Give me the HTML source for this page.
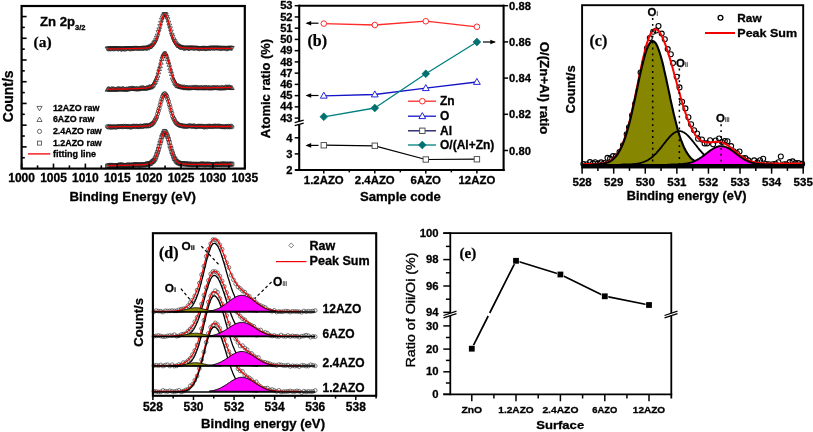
<!DOCTYPE html>
<html><head><meta charset="utf-8"><title>XPS figure</title>
<style>html,body{margin:0;padding:0;background:#fff}svg{display:block}</style></head>
<body><svg width="813" height="432" viewBox="0 0 813 432">
<rect width="813" height="432" fill="#fff"/>
<g id="pa">
<path d="M105.1,47.0h4.6l-2.3,4.1zM105.9,46.9h4.6l-2.3,4.1zM106.7,47.3h4.6l-2.3,4.1zM107.6,46.8h4.6l-2.3,4.1zM108.4,47.2h4.6l-2.3,4.1zM109.3,47.0h4.6l-2.3,4.1zM110.1,46.7h4.6l-2.3,4.1zM110.9,47.2h4.6l-2.3,4.1zM111.8,46.7h4.6l-2.3,4.1zM112.6,47.1h4.6l-2.3,4.1zM113.4,46.7h4.6l-2.3,4.1zM114.3,46.7h4.6l-2.3,4.1zM115.1,47.0h4.6l-2.3,4.1zM116.0,47.4h4.6l-2.3,4.1zM116.8,46.7h4.6l-2.3,4.1zM117.6,46.8h4.6l-2.3,4.1zM118.5,47.2h4.6l-2.3,4.1zM119.3,47.5h4.6l-2.3,4.1zM120.1,47.1h4.6l-2.3,4.1zM121.0,46.9h4.6l-2.3,4.1zM121.8,47.5h4.6l-2.3,4.1zM122.6,46.6h4.6l-2.3,4.1zM123.5,47.4h4.6l-2.3,4.1zM124.3,46.8h4.6l-2.3,4.1zM125.2,46.6h4.6l-2.3,4.1zM126.0,46.6h4.6l-2.3,4.1zM126.8,46.8h4.6l-2.3,4.1zM127.7,47.3h4.6l-2.3,4.1zM128.5,46.6h4.6l-2.3,4.1zM129.3,47.0h4.6l-2.3,4.1zM130.2,47.0h4.6l-2.3,4.1zM131.0,46.7h4.6l-2.3,4.1zM131.8,46.9h4.6l-2.3,4.1zM132.7,46.4h4.6l-2.3,4.1zM133.5,46.4h4.6l-2.3,4.1zM134.4,46.5h4.6l-2.3,4.1zM135.2,46.9h4.6l-2.3,4.1zM136.0,46.6h4.6l-2.3,4.1zM136.9,46.5h4.6l-2.3,4.1zM137.7,46.7h4.6l-2.3,4.1zM138.5,46.6h4.6l-2.3,4.1zM139.4,46.4h4.6l-2.3,4.1zM140.2,46.8h4.6l-2.3,4.1zM141.1,46.7h4.6l-2.3,4.1zM141.9,46.2h4.6l-2.3,4.1zM142.7,46.4h4.6l-2.3,4.1zM143.6,46.3h4.6l-2.3,4.1zM144.4,46.6h4.6l-2.3,4.1zM145.2,46.3h4.6l-2.3,4.1zM146.1,45.7h4.6l-2.3,4.1zM146.9,46.2h4.6l-2.3,4.1zM147.7,45.0h4.6l-2.3,4.1zM148.6,44.9h4.6l-2.3,4.1zM149.4,44.8h4.6l-2.3,4.1zM150.3,43.5h4.6l-2.3,4.1zM151.1,42.9h4.6l-2.3,4.1zM151.9,41.3h4.6l-2.3,4.1zM152.8,40.4h4.6l-2.3,4.1zM153.6,38.7h4.6l-2.3,4.1zM154.4,36.3h4.6l-2.3,4.1zM155.3,34.1h4.6l-2.3,4.1zM156.1,30.6h4.6l-2.3,4.1zM156.9,27.9h4.6l-2.3,4.1zM157.8,24.6h4.6l-2.3,4.1zM158.6,21.3h4.6l-2.3,4.1zM159.5,18.2h4.6l-2.3,4.1zM160.3,16.0h4.6l-2.3,4.1zM161.1,14.1h4.6l-2.3,4.1zM162.0,12.6h4.6l-2.3,4.1zM162.8,12.7h4.6l-2.3,4.1zM163.6,13.0h4.6l-2.3,4.1zM164.5,15.4h4.6l-2.3,4.1zM165.3,17.8h4.6l-2.3,4.1zM166.2,21.1h4.6l-2.3,4.1zM167.0,24.1h4.6l-2.3,4.1zM167.8,26.9h4.6l-2.3,4.1zM168.7,30.1h4.6l-2.3,4.1zM169.5,33.3h4.6l-2.3,4.1zM170.3,35.2h4.6l-2.3,4.1zM171.2,37.9h4.6l-2.3,4.1zM172.0,39.5h4.6l-2.3,4.1zM172.8,41.0h4.6l-2.3,4.1zM173.7,42.2h4.6l-2.3,4.1zM174.5,43.8h4.6l-2.3,4.1zM175.4,43.9h4.6l-2.3,4.1zM176.2,44.6h4.6l-2.3,4.1zM177.0,45.1h4.6l-2.3,4.1zM177.9,45.9h4.6l-2.3,4.1zM178.7,45.3h4.6l-2.3,4.1zM179.5,45.8h4.6l-2.3,4.1zM180.4,46.0h4.6l-2.3,4.1zM181.2,46.5h4.6l-2.3,4.1zM182.1,46.5h4.6l-2.3,4.1zM182.9,46.6h4.6l-2.3,4.1zM183.7,46.0h4.6l-2.3,4.1zM184.6,46.2h4.6l-2.3,4.1zM185.4,46.2h4.6l-2.3,4.1zM186.2,46.8h4.6l-2.3,4.1zM187.1,46.9h4.6l-2.3,4.1zM187.9,46.1h4.6l-2.3,4.1zM188.7,46.1h4.6l-2.3,4.1zM189.6,46.2h4.6l-2.3,4.1zM190.4,46.2h4.6l-2.3,4.1zM191.3,46.5h4.6l-2.3,4.1zM192.1,46.6h4.6l-2.3,4.1zM192.9,46.3h4.6l-2.3,4.1zM193.8,46.1h4.6l-2.3,4.1zM194.6,46.5h4.6l-2.3,4.1zM195.4,46.5h4.6l-2.3,4.1zM196.3,46.7h4.6l-2.3,4.1zM197.1,47.1h4.6l-2.3,4.1zM197.9,46.8h4.6l-2.3,4.1zM198.8,46.6h4.6l-2.3,4.1zM199.6,46.7h4.6l-2.3,4.1zM200.5,46.8h4.6l-2.3,4.1zM201.3,46.2h4.6l-2.3,4.1zM202.1,47.0h4.6l-2.3,4.1zM203.0,46.9h4.6l-2.3,4.1zM203.8,47.0h4.6l-2.3,4.1zM204.6,46.9h4.6l-2.3,4.1zM205.5,46.5h4.6l-2.3,4.1zM206.3,46.6h4.6l-2.3,4.1zM207.2,46.3h4.6l-2.3,4.1zM208.0,46.8h4.6l-2.3,4.1zM208.8,46.2h4.6l-2.3,4.1zM209.7,46.2h4.6l-2.3,4.1zM210.5,46.4h4.6l-2.3,4.1zM211.3,46.3h4.6l-2.3,4.1zM212.2,46.5h4.6l-2.3,4.1zM213.0,46.2h4.6l-2.3,4.1zM213.8,46.2h4.6l-2.3,4.1zM214.7,46.3h4.6l-2.3,4.1zM215.5,46.3h4.6l-2.3,4.1zM216.4,46.5h4.6l-2.3,4.1zM217.2,46.2h4.6l-2.3,4.1zM218.0,47.0h4.6l-2.3,4.1zM218.9,46.8h4.6l-2.3,4.1zM219.7,46.3h4.6l-2.3,4.1zM220.5,46.4h4.6l-2.3,4.1zM221.4,46.5h4.6l-2.3,4.1zM222.2,46.5h4.6l-2.3,4.1zM223.1,46.3h4.6l-2.3,4.1zM223.9,47.0h4.6l-2.3,4.1zM224.7,47.1h4.6l-2.3,4.1zM225.6,46.6h4.6l-2.3,4.1zM226.4,46.6h4.6l-2.3,4.1zM227.2,46.2h4.6l-2.3,4.1zM228.1,46.2h4.6l-2.3,4.1zM228.9,46.5h4.6l-2.3,4.1zM229.7,46.4h4.6l-2.3,4.1z" fill="none" stroke="#222" stroke-width="0.7"/>
<path d="M107.4,48.9 L108.2,48.9 L109.0,48.9 L109.9,48.9 L110.7,48.9 L111.6,48.9 L112.4,48.9 L113.2,48.9 L114.1,48.8 L114.9,48.8 L115.7,48.8 L116.6,48.8 L117.4,48.8 L118.3,48.8 L119.1,48.8 L119.9,48.8 L120.8,48.8 L121.6,48.8 L122.4,48.8 L123.3,48.7 L124.1,48.7 L124.9,48.7 L125.8,48.7 L126.6,48.7 L127.5,48.7 L128.3,48.7 L129.1,48.7 L130.0,48.6 L130.8,48.6 L131.6,48.6 L132.5,48.6 L133.3,48.6 L134.1,48.5 L135.0,48.5 L135.8,48.5 L136.7,48.5 L137.5,48.4 L138.3,48.4 L139.2,48.4 L140.0,48.4 L140.8,48.3 L141.7,48.3 L142.5,48.2 L143.4,48.2 L144.2,48.1 L145.0,48.1 L145.9,48.0 L146.7,47.9 L147.5,47.8 L148.4,47.6 L149.2,47.4 L150.0,47.1 L150.9,46.7 L151.7,46.2 L152.6,45.5 L153.4,44.6 L154.2,43.4 L155.1,42.0 L155.9,40.1 L156.7,37.9 L157.6,35.4 L158.4,32.5 L159.2,29.4 L160.1,26.2 L160.9,22.9 L161.8,19.9 L162.6,17.3 L163.4,15.4 L164.3,14.3 L165.1,14.2 L165.9,15.1 L166.8,16.9 L167.6,19.4 L168.5,22.3 L169.3,25.5 L170.1,28.8 L171.0,31.9 L171.8,34.8 L172.6,37.4 L173.5,39.7 L174.3,41.5 L175.1,43.1 L176.0,44.3 L176.8,45.3 L177.7,46.0 L178.5,46.5 L179.3,46.9 L180.2,47.2 L181.0,47.4 L181.8,47.6 L182.7,47.7 L183.5,47.8 L184.4,47.9 L185.2,47.9 L186.0,48.0 L186.9,48.0 L187.7,48.0 L188.5,48.1 L189.4,48.1 L190.2,48.1 L191.0,48.2 L191.9,48.2 L192.7,48.2 L193.6,48.2 L194.4,48.2 L195.2,48.2 L196.1,48.3 L196.9,48.3 L197.7,48.3 L198.6,48.3 L199.4,48.3 L200.2,48.3 L201.1,48.3 L201.9,48.3 L202.8,48.3 L203.6,48.3 L204.4,48.3 L205.3,48.3 L206.1,48.3 L206.9,48.3 L207.8,48.3 L208.6,48.4 L209.5,48.4 L210.3,48.4 L211.1,48.4 L212.0,48.4 L212.8,48.4 L213.6,48.4 L214.5,48.4 L215.3,48.4 L216.1,48.4 L217.0,48.4 L217.8,48.4 L218.7,48.4 L219.5,48.4 L220.3,48.4 L221.2,48.4 L222.0,48.4 L222.8,48.4 L223.7,48.3 L224.5,48.3 L225.4,48.3 L226.2,48.3 L227.0,48.3 L227.9,48.3 L228.7,48.3 L229.5,48.3 L230.4,48.3 L231.2,48.3 L232.0,48.3" stroke="#f00000" stroke-width="1.3" fill="none" stroke-linejoin="round" />
<path d="M105.1,91.3h4.6l-2.3,-4.1zM105.9,90.7h4.6l-2.3,-4.1zM106.7,90.5h4.6l-2.3,-4.1zM107.6,91.4h4.6l-2.3,-4.1zM108.4,91.0h4.6l-2.3,-4.1zM109.3,90.6h4.6l-2.3,-4.1zM110.1,91.0h4.6l-2.3,-4.1zM110.9,90.4h4.6l-2.3,-4.1zM111.8,90.9h4.6l-2.3,-4.1zM112.6,91.3h4.6l-2.3,-4.1zM113.4,91.2h4.6l-2.3,-4.1zM114.3,91.0h4.6l-2.3,-4.1zM115.1,90.6h4.6l-2.3,-4.1zM116.0,90.7h4.6l-2.3,-4.1zM116.8,90.4h4.6l-2.3,-4.1zM117.6,91.0h4.6l-2.3,-4.1zM118.5,90.8h4.6l-2.3,-4.1zM119.3,91.0h4.6l-2.3,-4.1zM120.1,90.5h4.6l-2.3,-4.1zM121.0,90.4h4.6l-2.3,-4.1zM121.8,91.0h4.6l-2.3,-4.1zM122.6,91.1h4.6l-2.3,-4.1zM123.5,91.0h4.6l-2.3,-4.1zM124.3,90.9h4.6l-2.3,-4.1zM125.2,90.9h4.6l-2.3,-4.1zM126.0,90.8h4.6l-2.3,-4.1zM126.8,90.3h4.6l-2.3,-4.1zM127.7,90.5h4.6l-2.3,-4.1zM128.5,90.3h4.6l-2.3,-4.1zM129.3,90.0h4.6l-2.3,-4.1zM130.2,90.0h4.6l-2.3,-4.1zM131.0,90.2h4.6l-2.3,-4.1zM131.8,90.1h4.6l-2.3,-4.1zM132.7,90.5h4.6l-2.3,-4.1zM133.5,90.8h4.6l-2.3,-4.1zM134.4,90.2h4.6l-2.3,-4.1zM135.2,90.7h4.6l-2.3,-4.1zM136.0,90.7h4.6l-2.3,-4.1zM136.9,90.6h4.6l-2.3,-4.1zM137.7,90.0h4.6l-2.3,-4.1zM138.5,89.8h4.6l-2.3,-4.1zM139.4,89.8h4.6l-2.3,-4.1zM140.2,89.7h4.6l-2.3,-4.1zM141.1,89.6h4.6l-2.3,-4.1zM141.9,90.0h4.6l-2.3,-4.1zM142.7,90.2h4.6l-2.3,-4.1zM143.6,90.0h4.6l-2.3,-4.1zM144.4,89.6h4.6l-2.3,-4.1zM145.2,89.6h4.6l-2.3,-4.1zM146.1,89.6h4.6l-2.3,-4.1zM146.9,88.6h4.6l-2.3,-4.1zM147.7,88.9h4.6l-2.3,-4.1zM148.6,88.8h4.6l-2.3,-4.1zM149.4,88.1h4.6l-2.3,-4.1zM150.3,87.4h4.6l-2.3,-4.1zM151.1,86.2h4.6l-2.3,-4.1zM151.9,84.6h4.6l-2.3,-4.1zM152.8,83.7h4.6l-2.3,-4.1zM153.6,81.4h4.6l-2.3,-4.1zM154.4,79.6h4.6l-2.3,-4.1zM155.3,77.2h4.6l-2.3,-4.1zM156.1,73.7h4.6l-2.3,-4.1zM156.9,70.5h4.6l-2.3,-4.1zM157.8,67.7h4.6l-2.3,-4.1zM158.6,64.2h4.6l-2.3,-4.1zM159.5,60.5h4.6l-2.3,-4.1zM160.3,57.8h4.6l-2.3,-4.1zM161.1,55.8h4.6l-2.3,-4.1zM162.0,55.5h4.6l-2.3,-4.1zM162.8,55.3h4.6l-2.3,-4.1zM163.6,55.5h4.6l-2.3,-4.1zM164.5,58.0h4.6l-2.3,-4.1zM165.3,60.7h4.6l-2.3,-4.1zM166.2,63.4h4.6l-2.3,-4.1zM167.0,66.3h4.6l-2.3,-4.1zM167.8,69.9h4.6l-2.3,-4.1zM168.7,72.6h4.6l-2.3,-4.1zM169.5,75.5h4.6l-2.3,-4.1zM170.3,79.1h4.6l-2.3,-4.1zM171.2,81.1h4.6l-2.3,-4.1zM172.0,82.9h4.6l-2.3,-4.1zM172.8,84.8h4.6l-2.3,-4.1zM173.7,85.6h4.6l-2.3,-4.1zM174.5,87.0h4.6l-2.3,-4.1zM175.4,87.7h4.6l-2.3,-4.1zM176.2,87.6h4.6l-2.3,-4.1zM177.0,88.0h4.6l-2.3,-4.1zM177.9,88.4h4.6l-2.3,-4.1zM178.7,88.5h4.6l-2.3,-4.1zM179.5,89.0h4.6l-2.3,-4.1zM180.4,88.8h4.6l-2.3,-4.1zM181.2,89.0h4.6l-2.3,-4.1zM182.1,88.8h4.6l-2.3,-4.1zM182.9,89.7h4.6l-2.3,-4.1zM183.7,89.1h4.6l-2.3,-4.1zM184.6,89.3h4.6l-2.3,-4.1zM185.4,89.4h4.6l-2.3,-4.1zM186.2,89.8h4.6l-2.3,-4.1zM187.1,89.3h4.6l-2.3,-4.1zM187.9,89.8h4.6l-2.3,-4.1zM188.7,89.4h4.6l-2.3,-4.1zM189.6,89.5h4.6l-2.3,-4.1zM190.4,89.5h4.6l-2.3,-4.1zM191.3,89.0h4.6l-2.3,-4.1zM192.1,89.4h4.6l-2.3,-4.1zM192.9,89.2h4.6l-2.3,-4.1zM193.8,89.0h4.6l-2.3,-4.1zM194.6,89.8h4.6l-2.3,-4.1zM195.4,89.2h4.6l-2.3,-4.1zM196.3,89.5h4.6l-2.3,-4.1zM197.1,89.7h4.6l-2.3,-4.1zM197.9,89.6h4.6l-2.3,-4.1zM198.8,89.3h4.6l-2.3,-4.1zM199.6,89.5h4.6l-2.3,-4.1zM200.5,89.6h4.6l-2.3,-4.1zM201.3,89.8h4.6l-2.3,-4.1zM202.1,89.1h4.6l-2.3,-4.1zM203.0,89.6h4.6l-2.3,-4.1zM203.8,89.2h4.6l-2.3,-4.1zM204.6,89.3h4.6l-2.3,-4.1zM205.5,89.8h4.6l-2.3,-4.1zM206.3,89.5h4.6l-2.3,-4.1zM207.2,89.5h4.6l-2.3,-4.1zM208.0,89.7h4.6l-2.3,-4.1zM208.8,89.9h4.6l-2.3,-4.1zM209.7,89.4h4.6l-2.3,-4.1zM210.5,89.6h4.6l-2.3,-4.1zM211.3,89.4h4.6l-2.3,-4.1zM212.2,89.4h4.6l-2.3,-4.1zM213.0,89.6h4.6l-2.3,-4.1zM213.8,89.4h4.6l-2.3,-4.1zM214.7,89.4h4.6l-2.3,-4.1zM215.5,89.4h4.6l-2.3,-4.1zM216.4,89.8h4.6l-2.3,-4.1zM217.2,89.6h4.6l-2.3,-4.1zM218.0,89.7h4.6l-2.3,-4.1zM218.9,89.8h4.6l-2.3,-4.1zM219.7,89.1h4.6l-2.3,-4.1zM220.5,89.4h4.6l-2.3,-4.1zM221.4,89.8h4.6l-2.3,-4.1zM222.2,89.7h4.6l-2.3,-4.1zM223.1,88.9h4.6l-2.3,-4.1zM223.9,88.9h4.6l-2.3,-4.1zM224.7,89.2h4.6l-2.3,-4.1zM225.6,88.9h4.6l-2.3,-4.1zM226.4,89.0h4.6l-2.3,-4.1zM227.2,88.8h4.6l-2.3,-4.1zM228.1,89.4h4.6l-2.3,-4.1zM228.9,89.5h4.6l-2.3,-4.1zM229.7,89.6h4.6l-2.3,-4.1z" fill="none" stroke="#222" stroke-width="0.7"/>
<path d="M107.4,89.3 L108.2,89.3 L109.0,89.3 L109.9,89.3 L110.7,89.2 L111.6,89.2 L112.4,89.2 L113.2,89.2 L114.1,89.2 L114.9,89.2 L115.7,89.2 L116.6,89.1 L117.4,89.1 L118.3,89.1 L119.1,89.1 L119.9,89.1 L120.8,89.0 L121.6,89.0 L122.4,89.0 L123.3,89.0 L124.1,89.0 L124.9,89.0 L125.8,88.9 L126.6,88.9 L127.5,88.9 L128.3,88.9 L129.1,88.8 L130.0,88.8 L130.8,88.8 L131.6,88.8 L132.5,88.7 L133.3,88.7 L134.1,88.7 L135.0,88.7 L135.8,88.6 L136.7,88.6 L137.5,88.6 L138.3,88.5 L139.2,88.5 L140.0,88.4 L140.8,88.4 L141.7,88.3 L142.5,88.3 L143.4,88.2 L144.2,88.2 L145.0,88.1 L145.9,88.0 L146.7,87.9 L147.5,87.8 L148.4,87.6 L149.2,87.4 L150.0,87.1 L150.9,86.7 L151.7,86.1 L152.6,85.4 L153.4,84.5 L154.2,83.3 L155.1,81.7 L155.9,79.9 L156.7,77.6 L157.6,75.0 L158.4,72.1 L159.2,68.9 L160.1,65.5 L160.9,62.2 L161.8,59.1 L162.6,56.5 L163.4,54.5 L164.3,53.4 L165.1,53.3 L165.9,54.2 L166.8,56.0 L167.6,58.5 L168.5,61.5 L169.3,64.8 L170.1,68.1 L171.0,71.3 L171.8,74.3 L172.6,76.9 L173.5,79.2 L174.3,81.1 L175.1,82.7 L176.0,83.9 L176.8,84.9 L177.7,85.6 L178.5,86.2 L179.3,86.6 L180.2,86.9 L181.0,87.1 L181.8,87.2 L182.7,87.3 L183.5,87.4 L184.4,87.5 L185.2,87.6 L186.0,87.6 L186.9,87.6 L187.7,87.7 L188.5,87.7 L189.4,87.7 L190.2,87.7 L191.0,87.7 L191.9,87.8 L192.7,87.8 L193.6,87.8 L194.4,87.8 L195.2,87.8 L196.1,87.8 L196.9,87.8 L197.7,87.8 L198.6,87.8 L199.4,87.8 L200.2,87.8 L201.1,87.8 L201.9,87.8 L202.8,87.8 L203.6,87.8 L204.4,87.8 L205.3,87.8 L206.1,87.8 L206.9,87.8 L207.8,87.8 L208.6,87.8 L209.5,87.8 L210.3,87.8 L211.1,87.8 L212.0,87.7 L212.8,87.7 L213.6,87.7 L214.5,87.7 L215.3,87.7 L216.1,87.7 L217.0,87.7 L217.8,87.7 L218.7,87.7 L219.5,87.7 L220.3,87.7 L221.2,87.7 L222.0,87.6 L222.8,87.6 L223.7,87.6 L224.5,87.6 L225.4,87.6 L226.2,87.6 L227.0,87.6 L227.9,87.6 L228.7,87.6 L229.5,87.6 L230.4,87.5 L231.2,87.5 L232.0,87.5" stroke="#f00000" stroke-width="1.3" fill="none" stroke-linejoin="round" />
<path d="M105.4,126.5a2,2 0 1,0 4,0a2,2 0 1,0 -4,0M106.2,127.0a2,2 0 1,0 4,0a2,2 0 1,0 -4,0M107.0,127.0a2,2 0 1,0 4,0a2,2 0 1,0 -4,0M107.9,126.4a2,2 0 1,0 4,0a2,2 0 1,0 -4,0M108.7,127.2a2,2 0 1,0 4,0a2,2 0 1,0 -4,0M109.6,127.3a2,2 0 1,0 4,0a2,2 0 1,0 -4,0M110.4,126.5a2,2 0 1,0 4,0a2,2 0 1,0 -4,0M111.2,127.2a2,2 0 1,0 4,0a2,2 0 1,0 -4,0M112.1,126.7a2,2 0 1,0 4,0a2,2 0 1,0 -4,0M112.9,126.8a2,2 0 1,0 4,0a2,2 0 1,0 -4,0M113.7,127.2a2,2 0 1,0 4,0a2,2 0 1,0 -4,0M114.6,127.1a2,2 0 1,0 4,0a2,2 0 1,0 -4,0M115.4,126.4a2,2 0 1,0 4,0a2,2 0 1,0 -4,0M116.3,126.7a2,2 0 1,0 4,0a2,2 0 1,0 -4,0M117.1,126.7a2,2 0 1,0 4,0a2,2 0 1,0 -4,0M117.9,126.6a2,2 0 1,0 4,0a2,2 0 1,0 -4,0M118.8,126.4a2,2 0 1,0 4,0a2,2 0 1,0 -4,0M119.6,126.5a2,2 0 1,0 4,0a2,2 0 1,0 -4,0M120.4,126.9a2,2 0 1,0 4,0a2,2 0 1,0 -4,0M121.3,126.2a2,2 0 1,0 4,0a2,2 0 1,0 -4,0M122.1,126.7a2,2 0 1,0 4,0a2,2 0 1,0 -4,0M122.9,126.6a2,2 0 1,0 4,0a2,2 0 1,0 -4,0M123.8,126.2a2,2 0 1,0 4,0a2,2 0 1,0 -4,0M124.6,126.5a2,2 0 1,0 4,0a2,2 0 1,0 -4,0M125.5,126.8a2,2 0 1,0 4,0a2,2 0 1,0 -4,0M126.3,126.6a2,2 0 1,0 4,0a2,2 0 1,0 -4,0M127.1,126.2a2,2 0 1,0 4,0a2,2 0 1,0 -4,0M128.0,127.1a2,2 0 1,0 4,0a2,2 0 1,0 -4,0M128.8,126.9a2,2 0 1,0 4,0a2,2 0 1,0 -4,0M129.6,127.0a2,2 0 1,0 4,0a2,2 0 1,0 -4,0M130.5,126.2a2,2 0 1,0 4,0a2,2 0 1,0 -4,0M131.3,126.3a2,2 0 1,0 4,0a2,2 0 1,0 -4,0M132.1,126.1a2,2 0 1,0 4,0a2,2 0 1,0 -4,0M133.0,126.8a2,2 0 1,0 4,0a2,2 0 1,0 -4,0M133.8,126.3a2,2 0 1,0 4,0a2,2 0 1,0 -4,0M134.7,126.1a2,2 0 1,0 4,0a2,2 0 1,0 -4,0M135.5,126.4a2,2 0 1,0 4,0a2,2 0 1,0 -4,0M136.3,126.8a2,2 0 1,0 4,0a2,2 0 1,0 -4,0M137.2,126.7a2,2 0 1,0 4,0a2,2 0 1,0 -4,0M138.0,126.1a2,2 0 1,0 4,0a2,2 0 1,0 -4,0M138.8,126.0a2,2 0 1,0 4,0a2,2 0 1,0 -4,0M139.7,126.7a2,2 0 1,0 4,0a2,2 0 1,0 -4,0M140.5,126.3a2,2 0 1,0 4,0a2,2 0 1,0 -4,0M141.4,126.4a2,2 0 1,0 4,0a2,2 0 1,0 -4,0M142.2,125.7a2,2 0 1,0 4,0a2,2 0 1,0 -4,0M143.0,125.6a2,2 0 1,0 4,0a2,2 0 1,0 -4,0M143.9,126.2a2,2 0 1,0 4,0a2,2 0 1,0 -4,0M144.7,125.8a2,2 0 1,0 4,0a2,2 0 1,0 -4,0M145.5,125.4a2,2 0 1,0 4,0a2,2 0 1,0 -4,0M146.4,126.1a2,2 0 1,0 4,0a2,2 0 1,0 -4,0M147.2,125.6a2,2 0 1,0 4,0a2,2 0 1,0 -4,0M148.0,125.5a2,2 0 1,0 4,0a2,2 0 1,0 -4,0M148.9,124.4a2,2 0 1,0 4,0a2,2 0 1,0 -4,0M149.7,124.7a2,2 0 1,0 4,0a2,2 0 1,0 -4,0M150.6,123.3a2,2 0 1,0 4,0a2,2 0 1,0 -4,0M151.4,123.2a2,2 0 1,0 4,0a2,2 0 1,0 -4,0M152.2,121.7a2,2 0 1,0 4,0a2,2 0 1,0 -4,0M153.1,120.1a2,2 0 1,0 4,0a2,2 0 1,0 -4,0M153.9,118.6a2,2 0 1,0 4,0a2,2 0 1,0 -4,0M154.7,116.9a2,2 0 1,0 4,0a2,2 0 1,0 -4,0M155.6,113.8a2,2 0 1,0 4,0a2,2 0 1,0 -4,0M156.4,111.0a2,2 0 1,0 4,0a2,2 0 1,0 -4,0M157.2,108.4a2,2 0 1,0 4,0a2,2 0 1,0 -4,0M158.1,105.0a2,2 0 1,0 4,0a2,2 0 1,0 -4,0M158.9,101.8a2,2 0 1,0 4,0a2,2 0 1,0 -4,0M159.8,99.0a2,2 0 1,0 4,0a2,2 0 1,0 -4,0M160.6,96.5a2,2 0 1,0 4,0a2,2 0 1,0 -4,0M161.4,94.8a2,2 0 1,0 4,0a2,2 0 1,0 -4,0M162.3,93.8a2,2 0 1,0 4,0a2,2 0 1,0 -4,0M163.1,93.7a2,2 0 1,0 4,0a2,2 0 1,0 -4,0M163.9,95.1a2,2 0 1,0 4,0a2,2 0 1,0 -4,0M164.8,96.3a2,2 0 1,0 4,0a2,2 0 1,0 -4,0M165.6,98.9a2,2 0 1,0 4,0a2,2 0 1,0 -4,0M166.5,101.3a2,2 0 1,0 4,0a2,2 0 1,0 -4,0M167.3,104.6a2,2 0 1,0 4,0a2,2 0 1,0 -4,0M168.1,107.3a2,2 0 1,0 4,0a2,2 0 1,0 -4,0M169.0,110.5a2,2 0 1,0 4,0a2,2 0 1,0 -4,0M169.8,113.1a2,2 0 1,0 4,0a2,2 0 1,0 -4,0M170.6,116.3a2,2 0 1,0 4,0a2,2 0 1,0 -4,0M171.5,118.2a2,2 0 1,0 4,0a2,2 0 1,0 -4,0M172.3,119.6a2,2 0 1,0 4,0a2,2 0 1,0 -4,0M173.1,121.4a2,2 0 1,0 4,0a2,2 0 1,0 -4,0M174.0,123.0a2,2 0 1,0 4,0a2,2 0 1,0 -4,0M174.8,123.1a2,2 0 1,0 4,0a2,2 0 1,0 -4,0M175.7,124.5a2,2 0 1,0 4,0a2,2 0 1,0 -4,0M176.5,124.6a2,2 0 1,0 4,0a2,2 0 1,0 -4,0M177.3,125.1a2,2 0 1,0 4,0a2,2 0 1,0 -4,0M178.2,125.7a2,2 0 1,0 4,0a2,2 0 1,0 -4,0M179.0,125.4a2,2 0 1,0 4,0a2,2 0 1,0 -4,0M179.8,125.7a2,2 0 1,0 4,0a2,2 0 1,0 -4,0M180.7,126.0a2,2 0 1,0 4,0a2,2 0 1,0 -4,0M181.5,126.4a2,2 0 1,0 4,0a2,2 0 1,0 -4,0M182.4,125.8a2,2 0 1,0 4,0a2,2 0 1,0 -4,0M183.2,126.4a2,2 0 1,0 4,0a2,2 0 1,0 -4,0M184.0,126.3a2,2 0 1,0 4,0a2,2 0 1,0 -4,0M184.9,126.3a2,2 0 1,0 4,0a2,2 0 1,0 -4,0M185.7,126.1a2,2 0 1,0 4,0a2,2 0 1,0 -4,0M186.5,126.1a2,2 0 1,0 4,0a2,2 0 1,0 -4,0M187.4,125.8a2,2 0 1,0 4,0a2,2 0 1,0 -4,0M188.2,125.9a2,2 0 1,0 4,0a2,2 0 1,0 -4,0M189.0,125.9a2,2 0 1,0 4,0a2,2 0 1,0 -4,0M189.9,126.5a2,2 0 1,0 4,0a2,2 0 1,0 -4,0M190.7,126.1a2,2 0 1,0 4,0a2,2 0 1,0 -4,0M191.6,126.0a2,2 0 1,0 4,0a2,2 0 1,0 -4,0M192.4,125.9a2,2 0 1,0 4,0a2,2 0 1,0 -4,0M193.2,126.7a2,2 0 1,0 4,0a2,2 0 1,0 -4,0M194.1,126.8a2,2 0 1,0 4,0a2,2 0 1,0 -4,0M194.9,126.6a2,2 0 1,0 4,0a2,2 0 1,0 -4,0M195.7,126.2a2,2 0 1,0 4,0a2,2 0 1,0 -4,0M196.6,126.2a2,2 0 1,0 4,0a2,2 0 1,0 -4,0M197.4,126.2a2,2 0 1,0 4,0a2,2 0 1,0 -4,0M198.2,126.4a2,2 0 1,0 4,0a2,2 0 1,0 -4,0M199.1,126.1a2,2 0 1,0 4,0a2,2 0 1,0 -4,0M199.9,126.4a2,2 0 1,0 4,0a2,2 0 1,0 -4,0M200.8,126.2a2,2 0 1,0 4,0a2,2 0 1,0 -4,0M201.6,126.9a2,2 0 1,0 4,0a2,2 0 1,0 -4,0M202.4,127.0a2,2 0 1,0 4,0a2,2 0 1,0 -4,0M203.3,126.5a2,2 0 1,0 4,0a2,2 0 1,0 -4,0M204.1,126.2a2,2 0 1,0 4,0a2,2 0 1,0 -4,0M204.9,127.0a2,2 0 1,0 4,0a2,2 0 1,0 -4,0M205.8,126.3a2,2 0 1,0 4,0a2,2 0 1,0 -4,0M206.6,126.4a2,2 0 1,0 4,0a2,2 0 1,0 -4,0M207.5,126.0a2,2 0 1,0 4,0a2,2 0 1,0 -4,0M208.3,126.4a2,2 0 1,0 4,0a2,2 0 1,0 -4,0M209.1,126.5a2,2 0 1,0 4,0a2,2 0 1,0 -4,0M210.0,126.5a2,2 0 1,0 4,0a2,2 0 1,0 -4,0M210.8,126.2a2,2 0 1,0 4,0a2,2 0 1,0 -4,0M211.6,126.5a2,2 0 1,0 4,0a2,2 0 1,0 -4,0M212.5,126.0a2,2 0 1,0 4,0a2,2 0 1,0 -4,0M213.3,126.3a2,2 0 1,0 4,0a2,2 0 1,0 -4,0M214.1,126.1a2,2 0 1,0 4,0a2,2 0 1,0 -4,0M215.0,126.4a2,2 0 1,0 4,0a2,2 0 1,0 -4,0M215.8,126.1a2,2 0 1,0 4,0a2,2 0 1,0 -4,0M216.7,126.1a2,2 0 1,0 4,0a2,2 0 1,0 -4,0M217.5,126.3a2,2 0 1,0 4,0a2,2 0 1,0 -4,0M218.3,126.3a2,2 0 1,0 4,0a2,2 0 1,0 -4,0M219.2,126.6a2,2 0 1,0 4,0a2,2 0 1,0 -4,0M220.0,126.6a2,2 0 1,0 4,0a2,2 0 1,0 -4,0M220.8,126.8a2,2 0 1,0 4,0a2,2 0 1,0 -4,0M221.7,126.7a2,2 0 1,0 4,0a2,2 0 1,0 -4,0M222.5,126.8a2,2 0 1,0 4,0a2,2 0 1,0 -4,0M223.4,126.9a2,2 0 1,0 4,0a2,2 0 1,0 -4,0M224.2,126.4a2,2 0 1,0 4,0a2,2 0 1,0 -4,0M225.0,126.4a2,2 0 1,0 4,0a2,2 0 1,0 -4,0M225.9,127.0a2,2 0 1,0 4,0a2,2 0 1,0 -4,0M226.7,126.2a2,2 0 1,0 4,0a2,2 0 1,0 -4,0M227.5,126.8a2,2 0 1,0 4,0a2,2 0 1,0 -4,0M228.4,126.7a2,2 0 1,0 4,0a2,2 0 1,0 -4,0M229.2,126.1a2,2 0 1,0 4,0a2,2 0 1,0 -4,0M230.0,126.9a2,2 0 1,0 4,0a2,2 0 1,0 -4,0" fill="none" stroke="#222" stroke-width="0.7"/>
<path d="M107.4,126.8 L108.2,126.8 L109.0,126.8 L109.9,126.8 L110.7,126.8 L111.6,126.8 L112.4,126.8 L113.2,126.8 L114.1,126.8 L114.9,126.8 L115.7,126.8 L116.6,126.8 L117.4,126.7 L118.3,126.7 L119.1,126.7 L119.9,126.7 L120.8,126.7 L121.6,126.7 L122.4,126.7 L123.3,126.7 L124.1,126.7 L124.9,126.7 L125.8,126.7 L126.6,126.7 L127.5,126.6 L128.3,126.6 L129.1,126.6 L130.0,126.6 L130.8,126.6 L131.6,126.6 L132.5,126.6 L133.3,126.5 L134.1,126.5 L135.0,126.5 L135.8,126.5 L136.7,126.5 L137.5,126.4 L138.3,126.4 L139.2,126.4 L140.0,126.4 L140.8,126.3 L141.7,126.3 L142.5,126.2 L143.4,126.2 L144.2,126.1 L145.0,126.1 L145.9,126.0 L146.7,125.9 L147.5,125.8 L148.4,125.7 L149.2,125.5 L150.0,125.2 L150.9,124.8 L151.7,124.3 L152.6,123.7 L153.4,122.8 L154.2,121.7 L155.1,120.3 L155.9,118.6 L156.7,116.5 L157.6,114.1 L158.4,111.3 L159.2,108.4 L160.1,105.3 L160.9,102.2 L161.8,99.4 L162.6,96.9 L163.4,95.1 L164.3,94.0 L165.1,93.9 L165.9,94.8 L166.8,96.5 L167.6,98.9 L168.5,101.7 L169.3,104.7 L170.1,107.8 L171.0,110.8 L171.8,113.5 L172.6,116.0 L173.5,118.2 L174.3,120.0 L175.1,121.4 L176.0,122.6 L176.8,123.5 L177.7,124.2 L178.5,124.7 L179.3,125.1 L180.2,125.3 L181.0,125.5 L181.8,125.7 L182.7,125.8 L183.5,125.9 L184.4,126.0 L185.2,126.0 L186.0,126.1 L186.9,126.1 L187.7,126.2 L188.5,126.2 L189.4,126.2 L190.2,126.3 L191.0,126.3 L191.9,126.3 L192.7,126.3 L193.6,126.3 L194.4,126.4 L195.2,126.4 L196.1,126.4 L196.9,126.4 L197.7,126.4 L198.6,126.4 L199.4,126.4 L200.2,126.4 L201.1,126.5 L201.9,126.5 L202.8,126.5 L203.6,126.5 L204.4,126.5 L205.3,126.5 L206.1,126.5 L206.9,126.5 L207.8,126.5 L208.6,126.5 L209.5,126.5 L210.3,126.5 L211.1,126.5 L212.0,126.5 L212.8,126.5 L213.6,126.5 L214.5,126.5 L215.3,126.5 L216.1,126.5 L217.0,126.5 L217.8,126.5 L218.7,126.5 L219.5,126.5 L220.3,126.5 L221.2,126.5 L222.0,126.5 L222.8,126.5 L223.7,126.5 L224.5,126.5 L225.4,126.5 L226.2,126.5 L227.0,126.5 L227.9,126.5 L228.7,126.5 L229.5,126.5 L230.4,126.5 L231.2,126.5 L232.0,126.5" stroke="#f00000" stroke-width="1.3" fill="none" stroke-linejoin="round" />
<path d="M105.5,164.1h3.8v3.8h-3.8zM106.3,163.8h3.8v3.8h-3.8zM107.1,163.9h3.8v3.8h-3.8zM108.0,164.0h3.8v3.8h-3.8zM108.8,163.3h3.8v3.8h-3.8zM109.7,163.7h3.8v3.8h-3.8zM110.5,163.6h3.8v3.8h-3.8zM111.3,164.0h3.8v3.8h-3.8zM112.2,163.9h3.8v3.8h-3.8zM113.0,163.9h3.8v3.8h-3.8zM113.8,163.7h3.8v3.8h-3.8zM114.7,164.0h3.8v3.8h-3.8zM115.5,163.7h3.8v3.8h-3.8zM116.4,163.7h3.8v3.8h-3.8zM117.2,163.3h3.8v3.8h-3.8zM118.0,163.0h3.8v3.8h-3.8zM118.9,163.1h3.8v3.8h-3.8zM119.7,163.3h3.8v3.8h-3.8zM120.5,163.1h3.8v3.8h-3.8zM121.4,163.8h3.8v3.8h-3.8zM122.2,163.5h3.8v3.8h-3.8zM123.0,163.5h3.8v3.8h-3.8zM123.9,163.5h3.8v3.8h-3.8zM124.7,163.6h3.8v3.8h-3.8zM125.6,163.4h3.8v3.8h-3.8zM126.4,162.8h3.8v3.8h-3.8zM127.2,163.6h3.8v3.8h-3.8zM128.1,163.6h3.8v3.8h-3.8zM128.9,163.3h3.8v3.8h-3.8zM129.7,163.3h3.8v3.8h-3.8zM130.6,163.4h3.8v3.8h-3.8zM131.4,162.8h3.8v3.8h-3.8zM132.2,163.4h3.8v3.8h-3.8zM133.1,162.9h3.8v3.8h-3.8zM133.9,162.7h3.8v3.8h-3.8zM134.8,162.9h3.8v3.8h-3.8zM135.6,163.3h3.8v3.8h-3.8zM136.4,162.7h3.8v3.8h-3.8zM137.3,163.2h3.8v3.8h-3.8zM138.1,163.4h3.8v3.8h-3.8zM138.9,162.9h3.8v3.8h-3.8zM139.8,162.8h3.8v3.8h-3.8zM140.6,162.8h3.8v3.8h-3.8zM141.5,163.0h3.8v3.8h-3.8zM142.3,163.0h3.8v3.8h-3.8zM143.1,162.8h3.8v3.8h-3.8zM144.0,162.7h3.8v3.8h-3.8zM144.8,162.0h3.8v3.8h-3.8zM145.6,162.0h3.8v3.8h-3.8zM146.5,161.9h3.8v3.8h-3.8zM147.3,162.2h3.8v3.8h-3.8zM148.1,161.5h3.8v3.8h-3.8zM149.0,161.4h3.8v3.8h-3.8zM149.8,160.3h3.8v3.8h-3.8zM150.7,159.7h3.8v3.8h-3.8zM151.5,159.0h3.8v3.8h-3.8zM152.3,158.3h3.8v3.8h-3.8zM153.2,156.9h3.8v3.8h-3.8zM154.0,155.1h3.8v3.8h-3.8zM154.8,152.6h3.8v3.8h-3.8zM155.7,150.3h3.8v3.8h-3.8zM156.5,147.5h3.8v3.8h-3.8zM157.3,144.5h3.8v3.8h-3.8zM158.2,141.0h3.8v3.8h-3.8zM159.0,138.6h3.8v3.8h-3.8zM159.9,135.0h3.8v3.8h-3.8zM160.7,133.2h3.8v3.8h-3.8zM161.5,131.3h3.8v3.8h-3.8zM162.4,129.4h3.8v3.8h-3.8zM163.2,129.7h3.8v3.8h-3.8zM164.0,130.9h3.8v3.8h-3.8zM164.9,132.8h3.8v3.8h-3.8zM165.7,134.7h3.8v3.8h-3.8zM166.6,137.3h3.8v3.8h-3.8zM167.4,140.4h3.8v3.8h-3.8zM168.2,144.2h3.8v3.8h-3.8zM169.1,146.5h3.8v3.8h-3.8zM169.9,149.7h3.8v3.8h-3.8zM170.7,151.8h3.8v3.8h-3.8zM171.6,154.4h3.8v3.8h-3.8zM172.4,156.6h3.8v3.8h-3.8zM173.2,157.3h3.8v3.8h-3.8zM174.1,159.1h3.8v3.8h-3.8zM174.9,159.7h3.8v3.8h-3.8zM175.8,160.8h3.8v3.8h-3.8zM176.6,161.1h3.8v3.8h-3.8zM177.4,161.0h3.8v3.8h-3.8zM178.3,162.0h3.8v3.8h-3.8zM179.1,161.8h3.8v3.8h-3.8zM179.9,161.5h3.8v3.8h-3.8zM180.8,161.5h3.8v3.8h-3.8zM181.6,162.1h3.8v3.8h-3.8zM182.5,162.1h3.8v3.8h-3.8zM183.3,162.0h3.8v3.8h-3.8zM184.1,161.9h3.8v3.8h-3.8zM185.0,162.2h3.8v3.8h-3.8zM185.8,162.2h3.8v3.8h-3.8zM186.6,162.7h3.8v3.8h-3.8zM187.5,161.9h3.8v3.8h-3.8zM188.3,162.7h3.8v3.8h-3.8zM189.1,162.8h3.8v3.8h-3.8zM190.0,162.1h3.8v3.8h-3.8zM190.8,162.9h3.8v3.8h-3.8zM191.7,162.7h3.8v3.8h-3.8zM192.5,162.9h3.8v3.8h-3.8zM193.3,162.3h3.8v3.8h-3.8zM194.2,162.4h3.8v3.8h-3.8zM195.0,162.4h3.8v3.8h-3.8zM195.8,163.0h3.8v3.8h-3.8zM196.7,162.6h3.8v3.8h-3.8zM197.5,162.4h3.8v3.8h-3.8zM198.3,162.4h3.8v3.8h-3.8zM199.2,162.3h3.8v3.8h-3.8zM200.0,162.1h3.8v3.8h-3.8zM200.9,162.1h3.8v3.8h-3.8zM201.7,162.9h3.8v3.8h-3.8zM202.5,162.3h3.8v3.8h-3.8zM203.4,163.0h3.8v3.8h-3.8zM204.2,162.3h3.8v3.8h-3.8zM205.0,162.3h3.8v3.8h-3.8zM205.9,162.5h3.8v3.8h-3.8zM206.7,162.2h3.8v3.8h-3.8zM207.6,162.4h3.8v3.8h-3.8zM208.4,163.0h3.8v3.8h-3.8zM209.2,162.9h3.8v3.8h-3.8zM210.1,162.8h3.8v3.8h-3.8zM210.9,162.6h3.8v3.8h-3.8zM211.7,162.9h3.8v3.8h-3.8zM212.6,162.9h3.8v3.8h-3.8zM213.4,162.5h3.8v3.8h-3.8zM214.2,162.7h3.8v3.8h-3.8zM215.1,162.0h3.8v3.8h-3.8zM215.9,162.7h3.8v3.8h-3.8zM216.8,162.4h3.8v3.8h-3.8zM217.6,162.7h3.8v3.8h-3.8zM218.4,162.6h3.8v3.8h-3.8zM219.3,162.2h3.8v3.8h-3.8zM220.1,162.0h3.8v3.8h-3.8zM220.9,162.8h3.8v3.8h-3.8zM221.8,162.0h3.8v3.8h-3.8zM222.6,162.4h3.8v3.8h-3.8zM223.5,162.2h3.8v3.8h-3.8zM224.3,162.2h3.8v3.8h-3.8zM225.1,162.6h3.8v3.8h-3.8zM226.0,162.8h3.8v3.8h-3.8zM226.8,162.1h3.8v3.8h-3.8zM227.6,162.5h3.8v3.8h-3.8zM228.5,162.1h3.8v3.8h-3.8zM229.3,162.4h3.8v3.8h-3.8zM230.1,162.2h3.8v3.8h-3.8z" fill="none" stroke="#222" stroke-width="0.7"/>
<path d="M107.4,165.6 L108.2,165.6 L109.0,165.6 L109.9,165.6 L110.7,165.6 L111.6,165.5 L112.4,165.5 L113.2,165.5 L114.1,165.5 L114.9,165.5 L115.7,165.5 L116.6,165.5 L117.4,165.5 L118.3,165.4 L119.1,165.4 L119.9,165.4 L120.8,165.4 L121.6,165.4 L122.4,165.4 L123.3,165.3 L124.1,165.3 L124.9,165.3 L125.8,165.3 L126.6,165.3 L127.5,165.3 L128.3,165.2 L129.1,165.2 L130.0,165.2 L130.8,165.2 L131.6,165.2 L132.5,165.1 L133.3,165.1 L134.1,165.1 L135.0,165.1 L135.8,165.0 L136.7,165.0 L137.5,165.0 L138.3,164.9 L139.2,164.9 L140.0,164.9 L140.8,164.8 L141.7,164.8 L142.5,164.7 L143.4,164.7 L144.2,164.6 L145.0,164.5 L145.9,164.5 L146.7,164.4 L147.5,164.2 L148.4,164.1 L149.2,163.9 L150.0,163.6 L150.9,163.2 L151.7,162.7 L152.6,162.0 L153.4,161.2 L154.2,160.0 L155.1,158.6 L155.9,156.8 L156.7,154.7 L157.6,152.2 L158.4,149.4 L159.2,146.4 L160.1,143.3 L160.9,140.1 L161.8,137.2 L162.6,134.7 L163.4,132.8 L164.3,131.7 L165.1,131.6 L165.9,132.5 L166.8,134.2 L167.6,136.6 L168.5,139.5 L169.3,142.6 L170.1,145.7 L171.0,148.7 L171.8,151.5 L172.6,154.1 L173.5,156.2 L174.3,158.0 L175.1,159.5 L176.0,160.7 L176.8,161.6 L177.7,162.3 L178.5,162.8 L179.3,163.2 L180.2,163.5 L181.0,163.7 L181.8,163.8 L182.7,163.9 L183.5,164.0 L184.4,164.1 L185.2,164.1 L186.0,164.2 L186.9,164.2 L187.7,164.3 L188.5,164.3 L189.4,164.3 L190.2,164.3 L191.0,164.3 L191.9,164.4 L192.7,164.4 L193.6,164.4 L194.4,164.4 L195.2,164.4 L196.1,164.4 L196.9,164.4 L197.7,164.4 L198.6,164.4 L199.4,164.4 L200.2,164.4 L201.1,164.4 L201.9,164.4 L202.8,164.4 L203.6,164.4 L204.4,164.4 L205.3,164.4 L206.1,164.4 L206.9,164.4 L207.8,164.4 L208.6,164.4 L209.5,164.4 L210.3,164.4 L211.1,164.4 L212.0,164.4 L212.8,164.4 L213.6,164.4 L214.5,164.4 L215.3,164.4 L216.1,164.4 L217.0,164.4 L217.8,164.4 L218.7,164.3 L219.5,164.3 L220.3,164.3 L221.2,164.3 L222.0,164.3 L222.8,164.3 L223.7,164.3 L224.5,164.3 L225.4,164.3 L226.2,164.3 L227.0,164.3 L227.9,164.3 L228.7,164.3 L229.5,164.3 L230.4,164.2 L231.2,164.2 L232.0,164.2" stroke="#f00000" stroke-width="1.3" fill="none" stroke-linejoin="round" />
<rect x="21.6" y="6.0" width="223.20000000000002" height="162.6" fill="none" stroke="#000" stroke-width="2.2"/>
<line x1="21.60" y1="168.60" x2="21.60" y2="163.60" stroke="#000" stroke-width="1.6" />
<line x1="37.54" y1="168.60" x2="37.54" y2="165.40" stroke="#000" stroke-width="1.6" />
<line x1="53.49" y1="168.60" x2="53.49" y2="163.60" stroke="#000" stroke-width="1.6" />
<line x1="69.43" y1="168.60" x2="69.43" y2="165.40" stroke="#000" stroke-width="1.6" />
<line x1="85.37" y1="168.60" x2="85.37" y2="163.60" stroke="#000" stroke-width="1.6" />
<line x1="101.31" y1="168.60" x2="101.31" y2="165.40" stroke="#000" stroke-width="1.6" />
<line x1="117.26" y1="168.60" x2="117.26" y2="163.60" stroke="#000" stroke-width="1.6" />
<line x1="133.20" y1="168.60" x2="133.20" y2="165.40" stroke="#000" stroke-width="1.6" />
<line x1="149.14" y1="168.60" x2="149.14" y2="163.60" stroke="#000" stroke-width="1.6" />
<line x1="165.09" y1="168.60" x2="165.09" y2="165.40" stroke="#000" stroke-width="1.6" />
<line x1="181.03" y1="168.60" x2="181.03" y2="163.60" stroke="#000" stroke-width="1.6" />
<line x1="196.97" y1="168.60" x2="196.97" y2="165.40" stroke="#000" stroke-width="1.6" />
<line x1="212.91" y1="168.60" x2="212.91" y2="163.60" stroke="#000" stroke-width="1.6" />
<line x1="228.86" y1="168.60" x2="228.86" y2="165.40" stroke="#000" stroke-width="1.6" />
<line x1="244.80" y1="168.60" x2="244.80" y2="163.60" stroke="#000" stroke-width="1.6" />
<line x1="21.60" y1="157.74" x2="24.80" y2="157.74" stroke="#000" stroke-width="1.6" />
<line x1="21.60" y1="146.88" x2="26.60" y2="146.88" stroke="#000" stroke-width="1.6" />
<line x1="21.60" y1="136.02" x2="24.80" y2="136.02" stroke="#000" stroke-width="1.6" />
<line x1="21.60" y1="125.16" x2="26.60" y2="125.16" stroke="#000" stroke-width="1.6" />
<line x1="21.60" y1="114.30" x2="24.80" y2="114.30" stroke="#000" stroke-width="1.6" />
<line x1="21.60" y1="103.44" x2="26.60" y2="103.44" stroke="#000" stroke-width="1.6" />
<line x1="21.60" y1="92.58" x2="24.80" y2="92.58" stroke="#000" stroke-width="1.6" />
<line x1="21.60" y1="81.72" x2="26.60" y2="81.72" stroke="#000" stroke-width="1.6" />
<line x1="21.60" y1="70.86" x2="24.80" y2="70.86" stroke="#000" stroke-width="1.6" />
<line x1="21.60" y1="60.00" x2="26.60" y2="60.00" stroke="#000" stroke-width="1.6" />
<line x1="21.60" y1="49.14" x2="24.80" y2="49.14" stroke="#000" stroke-width="1.6" />
<line x1="21.60" y1="38.28" x2="26.60" y2="38.28" stroke="#000" stroke-width="1.6" />
<line x1="21.60" y1="27.42" x2="24.80" y2="27.42" stroke="#000" stroke-width="1.6" />
<line x1="21.60" y1="16.56" x2="26.60" y2="16.56" stroke="#000" stroke-width="1.6" />
<text x="21.60" y="182.10" font-size="12" text-anchor="middle" font-family="Liberation Sans, Arial, sans-serif" font-weight="bold" stroke="#000" stroke-width="0.3" fill="#000"  >1000</text>
<text x="53.49" y="182.10" font-size="12" text-anchor="middle" font-family="Liberation Sans, Arial, sans-serif" font-weight="bold" stroke="#000" stroke-width="0.3" fill="#000"  >1005</text>
<text x="85.37" y="182.10" font-size="12" text-anchor="middle" font-family="Liberation Sans, Arial, sans-serif" font-weight="bold" stroke="#000" stroke-width="0.3" fill="#000"  >1010</text>
<text x="117.26" y="182.10" font-size="12" text-anchor="middle" font-family="Liberation Sans, Arial, sans-serif" font-weight="bold" stroke="#000" stroke-width="0.3" fill="#000"  >1015</text>
<text x="149.14" y="182.10" font-size="12" text-anchor="middle" font-family="Liberation Sans, Arial, sans-serif" font-weight="bold" stroke="#000" stroke-width="0.3" fill="#000"  >1020</text>
<text x="181.03" y="182.10" font-size="12" text-anchor="middle" font-family="Liberation Sans, Arial, sans-serif" font-weight="bold" stroke="#000" stroke-width="0.3" fill="#000"  >1025</text>
<text x="212.91" y="182.10" font-size="12" text-anchor="middle" font-family="Liberation Sans, Arial, sans-serif" font-weight="bold" stroke="#000" stroke-width="0.3" fill="#000"  >1030</text>
<text x="244.80" y="182.10" font-size="12" text-anchor="middle" font-family="Liberation Sans, Arial, sans-serif" font-weight="bold" stroke="#000" stroke-width="0.3" fill="#000"  >1035</text>
<text x="132.70" y="201.00" font-size="13.2" text-anchor="middle" font-family="Liberation Sans, Arial, sans-serif" font-weight="bold" stroke="#000" stroke-width="0.3" fill="#000" textLength="126.5" lengthAdjust="spacingAndGlyphs" >Binding Energy (eV)</text>
<text transform="translate(12.50,96.30) rotate(-90)" font-size="14.5" text-anchor="middle" font-family="Liberation Sans, Arial, sans-serif" font-weight="bold" stroke="#000" stroke-width="0.3" fill="#000" textLength="51.7" lengthAdjust="spacingAndGlyphs" >Count/s</text>
<text x="40" y="26.2" font-size="12.3" font-family="Liberation Sans, Arial, sans-serif" font-weight="bold" stroke="#000" stroke-width="0.3"><tspan textLength="35" lengthAdjust="spacingAndGlyphs">Zn 2p</tspan><tspan font-size="7.5" dy="3.5">3/2</tspan></text>
<text x="33.50" y="46.60" font-size="15.5" text-anchor="start" font-family="Liberation Serif, Times New Roman, serif" font-weight="bold" stroke="#000" stroke-width="0.25" fill="#000"  >(a)</text>
<g fill="none" stroke="#444" stroke-width="0.8">
<path d="M36.9,106.4 L42.1,106.4 L39.5,110.8 Z"/>
</g>
<text x="52.90" y="110.90" font-size="8.9" text-anchor="start" font-family="Liberation Sans, Arial, sans-serif" font-weight="bold" stroke="#000" stroke-width="0.3" fill="#000" textLength="46.6" lengthAdjust="spacingAndGlyphs" >12AZO raw</text>
<g fill="none" stroke="#444" stroke-width="0.8">
<path d="M36.9,121.5 L42.1,121.5 L39.5,117.10000000000001 Z"/>
</g>
<text x="52.90" y="122.40" font-size="8.9" text-anchor="start" font-family="Liberation Sans, Arial, sans-serif" font-weight="bold" stroke="#000" stroke-width="0.3" fill="#000"  >6AZO raw</text>
<g fill="none" stroke="#444" stroke-width="0.8">
<circle cx="39.5" cy="131.4" r="2.1"/>
</g>
<text x="52.90" y="134.10" font-size="8.9" text-anchor="start" font-family="Liberation Sans, Arial, sans-serif" font-weight="bold" stroke="#000" stroke-width="0.3" fill="#000" textLength="48.9" lengthAdjust="spacingAndGlyphs" >2.4AZO raw</text>
<g fill="none" stroke="#444" stroke-width="0.8">
<rect x="37.5" y="141.1" width="4" height="4"/>
</g>
<text x="52.90" y="145.80" font-size="8.9" text-anchor="start" font-family="Liberation Sans, Arial, sans-serif" font-weight="bold" stroke="#000" stroke-width="0.3" fill="#000" textLength="48.9" lengthAdjust="spacingAndGlyphs" >1.2AZO raw</text>
<line x1="28.00" y1="153.90" x2="50.30" y2="153.90" stroke="#f00000" stroke-width="1.3" />
<text x="52.90" y="157.40" font-size="8.9" text-anchor="start" font-family="Liberation Sans, Arial, sans-serif" font-weight="bold" stroke="#000" stroke-width="0.3" fill="#000" textLength="43.2" lengthAdjust="spacingAndGlyphs" >fitting line</text>
</g>
<g id="pb">
<path d="M323.8,23.6 L374.8,25.0 L425.8,21.2 L476.9,26.8" stroke="#ff2a2a" stroke-width="1.3" fill="none" stroke-linejoin="round" />
<path d="M323.8,95.8 L374.8,94.5 L425.8,88.2 L476.9,82.0" stroke="#1515c8" stroke-width="1.3" fill="none" stroke-linejoin="round" />
<path d="M323.8,145.2 L374.8,145.8 L425.8,159.5 L476.9,159.2" stroke="#000" stroke-width="1.2" fill="none" stroke-linejoin="round" />
<path d="M323.8,116.8 L374.8,108.0 L425.8,73.8 L476.9,42.0" stroke="#008080" stroke-width="1.3" fill="none" stroke-linejoin="round" />
<circle cx="323.8" cy="23.6" r="2.8" fill="#fff" stroke="#ff2a2a" stroke-width="1"/>
<circle cx="374.8" cy="25" r="2.8" fill="#fff" stroke="#ff2a2a" stroke-width="1"/>
<circle cx="425.8" cy="21.25" r="2.8" fill="#fff" stroke="#ff2a2a" stroke-width="1"/>
<circle cx="476.9" cy="26.75" r="2.8" fill="#fff" stroke="#ff2a2a" stroke-width="1"/>
<path d="M320.40000000000003,98.15 L327.2,98.15 L323.8,92.15 Z" fill="#fff" stroke="#2525d8" stroke-width="1"/>
<path d="M371.40000000000003,96.9 L378.2,96.9 L374.8,90.9 Z" fill="#fff" stroke="#2525d8" stroke-width="1"/>
<path d="M422.40000000000003,90.60000000000001 L429.2,90.60000000000001 L425.8,84.60000000000001 Z" fill="#fff" stroke="#2525d8" stroke-width="1"/>
<path d="M473.5,84.4 L480.29999999999995,84.4 L476.9,78.4 Z" fill="#fff" stroke="#2525d8" stroke-width="1"/>
<rect x="321.1" y="142.55" width="5.4" height="5.4" fill="#fff" stroke="#555" stroke-width="1"/>
<rect x="372.1" y="143.05" width="5.4" height="5.4" fill="#fff" stroke="#555" stroke-width="1"/>
<rect x="423.1" y="156.8" width="5.4" height="5.4" fill="#fff" stroke="#555" stroke-width="1"/>
<rect x="474.2" y="156.55" width="5.4" height="5.4" fill="#fff" stroke="#555" stroke-width="1"/>
<path d="M319.90000000000003,116.75 L323.8,112.85 L327.7,116.75 L323.8,120.65 Z" fill="#007070" stroke="#007070" stroke-width="0.6"/>
<path d="M370.90000000000003,108 L374.8,104.1 L378.7,108 L374.8,111.9 Z" fill="#007070" stroke="#007070" stroke-width="0.6"/>
<path d="M421.90000000000003,73.75 L425.8,69.85 L429.7,73.75 L425.8,77.65 Z" fill="#007070" stroke="#007070" stroke-width="0.6"/>
<path d="M473.0,42 L476.9,38.1 L480.79999999999995,42 L476.9,45.9 Z" fill="#007070" stroke="#007070" stroke-width="0.6"/>
<line x1="299.20" y1="5.70" x2="503.60" y2="5.70" stroke="#000" stroke-width="2.1" />
<line x1="503.60" y1="4.65" x2="503.60" y2="171.05" stroke="#000" stroke-width="2.1" />
<line x1="295.20" y1="170.00" x2="504.65" y2="170.00" stroke="#000" stroke-width="2.1" />
<line x1="299.20" y1="4.65" x2="299.20" y2="121.40" stroke="#000" stroke-width="2.1" />
<line x1="299.20" y1="124.40" x2="299.20" y2="170.00" stroke="#000" stroke-width="2.1" />
<line x1="294.70" y1="122.60" x2="303.70" y2="120.20" stroke="#000" stroke-width="1.2" />
<line x1="294.70" y1="125.60" x2="303.70" y2="123.20" stroke="#000" stroke-width="1.2" />
<line x1="294.70" y1="118.10" x2="299.20" y2="118.10" stroke="#000" stroke-width="1.5" />
<text x="292.60" y="121.70" font-size="11.2" text-anchor="end" font-family="Liberation Sans, Arial, sans-serif" font-weight="bold" stroke="#000" stroke-width="0.3" fill="#000"  >43</text>
<line x1="294.70" y1="106.86" x2="299.20" y2="106.86" stroke="#000" stroke-width="1.5" />
<text x="292.60" y="110.46" font-size="11.2" text-anchor="end" font-family="Liberation Sans, Arial, sans-serif" font-weight="bold" stroke="#000" stroke-width="0.3" fill="#000"  >44</text>
<line x1="294.70" y1="95.62" x2="299.20" y2="95.62" stroke="#000" stroke-width="1.5" />
<text x="292.60" y="99.22" font-size="11.2" text-anchor="end" font-family="Liberation Sans, Arial, sans-serif" font-weight="bold" stroke="#000" stroke-width="0.3" fill="#000"  >45</text>
<line x1="294.70" y1="84.38" x2="299.20" y2="84.38" stroke="#000" stroke-width="1.5" />
<text x="292.60" y="87.98" font-size="11.2" text-anchor="end" font-family="Liberation Sans, Arial, sans-serif" font-weight="bold" stroke="#000" stroke-width="0.3" fill="#000"  >46</text>
<line x1="294.70" y1="73.14" x2="299.20" y2="73.14" stroke="#000" stroke-width="1.5" />
<text x="292.60" y="76.74" font-size="11.2" text-anchor="end" font-family="Liberation Sans, Arial, sans-serif" font-weight="bold" stroke="#000" stroke-width="0.3" fill="#000"  >47</text>
<line x1="294.70" y1="61.90" x2="299.20" y2="61.90" stroke="#000" stroke-width="1.5" />
<text x="292.60" y="65.50" font-size="11.2" text-anchor="end" font-family="Liberation Sans, Arial, sans-serif" font-weight="bold" stroke="#000" stroke-width="0.3" fill="#000"  >48</text>
<line x1="294.70" y1="50.66" x2="299.20" y2="50.66" stroke="#000" stroke-width="1.5" />
<text x="292.60" y="54.26" font-size="11.2" text-anchor="end" font-family="Liberation Sans, Arial, sans-serif" font-weight="bold" stroke="#000" stroke-width="0.3" fill="#000"  >49</text>
<line x1="294.70" y1="39.42" x2="299.20" y2="39.42" stroke="#000" stroke-width="1.5" />
<text x="292.60" y="43.02" font-size="11.2" text-anchor="end" font-family="Liberation Sans, Arial, sans-serif" font-weight="bold" stroke="#000" stroke-width="0.3" fill="#000"  >50</text>
<line x1="294.70" y1="28.18" x2="299.20" y2="28.18" stroke="#000" stroke-width="1.5" />
<text x="292.60" y="31.78" font-size="11.2" text-anchor="end" font-family="Liberation Sans, Arial, sans-serif" font-weight="bold" stroke="#000" stroke-width="0.3" fill="#000"  >51</text>
<line x1="294.70" y1="16.94" x2="299.20" y2="16.94" stroke="#000" stroke-width="1.5" />
<text x="292.60" y="20.54" font-size="11.2" text-anchor="end" font-family="Liberation Sans, Arial, sans-serif" font-weight="bold" stroke="#000" stroke-width="0.3" fill="#000"  >52</text>
<line x1="294.70" y1="5.70" x2="299.20" y2="5.70" stroke="#000" stroke-width="1.5" />
<text x="292.60" y="9.30" font-size="11.2" text-anchor="end" font-family="Liberation Sans, Arial, sans-serif" font-weight="bold" stroke="#000" stroke-width="0.3" fill="#000"  >53</text>
<line x1="294.70" y1="170.00" x2="299.20" y2="170.00" stroke="#000" stroke-width="1.5" />
<text x="292.60" y="173.80" font-size="11.2" text-anchor="end" font-family="Liberation Sans, Arial, sans-serif" font-weight="bold" stroke="#000" stroke-width="0.3" fill="#000"  >2</text>
<line x1="294.70" y1="153.90" x2="299.20" y2="153.90" stroke="#000" stroke-width="1.5" />
<text x="292.60" y="157.70" font-size="11.2" text-anchor="end" font-family="Liberation Sans, Arial, sans-serif" font-weight="bold" stroke="#000" stroke-width="0.3" fill="#000"  >3</text>
<line x1="294.70" y1="137.80" x2="299.20" y2="137.80" stroke="#000" stroke-width="1.5" />
<text x="292.60" y="141.60" font-size="11.2" text-anchor="end" font-family="Liberation Sans, Arial, sans-serif" font-weight="bold" stroke="#000" stroke-width="0.3" fill="#000"  >4</text>
<line x1="503.60" y1="150.50" x2="508.10" y2="150.50" stroke="#000" stroke-width="1.5" />
<text x="509.10" y="154.50" font-size="11.2" text-anchor="start" font-family="Liberation Sans, Arial, sans-serif" font-weight="bold" stroke="#000" stroke-width="0.3" fill="#000"  >0.80</text>
<line x1="503.60" y1="114.30" x2="508.10" y2="114.30" stroke="#000" stroke-width="1.5" />
<text x="509.10" y="118.30" font-size="11.2" text-anchor="start" font-family="Liberation Sans, Arial, sans-serif" font-weight="bold" stroke="#000" stroke-width="0.3" fill="#000"  >0.82</text>
<line x1="503.60" y1="78.10" x2="508.10" y2="78.10" stroke="#000" stroke-width="1.5" />
<text x="509.10" y="82.10" font-size="11.2" text-anchor="start" font-family="Liberation Sans, Arial, sans-serif" font-weight="bold" stroke="#000" stroke-width="0.3" fill="#000"  >0.84</text>
<line x1="503.60" y1="41.90" x2="508.10" y2="41.90" stroke="#000" stroke-width="1.5" />
<text x="509.10" y="45.90" font-size="11.2" text-anchor="start" font-family="Liberation Sans, Arial, sans-serif" font-weight="bold" stroke="#000" stroke-width="0.3" fill="#000"  >0.86</text>
<line x1="503.60" y1="5.70" x2="508.10" y2="5.70" stroke="#000" stroke-width="1.5" />
<text x="509.10" y="9.70" font-size="11.2" text-anchor="start" font-family="Liberation Sans, Arial, sans-serif" font-weight="bold" stroke="#000" stroke-width="0.3" fill="#000"  >0.88</text>
<line x1="323.80" y1="170.00" x2="323.80" y2="173.60" stroke="#000" stroke-width="1.5" />
<line x1="374.80" y1="170.00" x2="374.80" y2="173.60" stroke="#000" stroke-width="1.5" />
<line x1="425.80" y1="170.00" x2="425.80" y2="173.60" stroke="#000" stroke-width="1.5" />
<line x1="476.90" y1="170.00" x2="476.90" y2="173.60" stroke="#000" stroke-width="1.5" />
<line x1="349.30" y1="170.00" x2="349.30" y2="172.40" stroke="#000" stroke-width="1.5" />
<line x1="400.30" y1="170.00" x2="400.30" y2="172.40" stroke="#000" stroke-width="1.5" />
<line x1="451.35" y1="170.00" x2="451.35" y2="172.40" stroke="#000" stroke-width="1.5" />
<text x="323.80" y="183.70" font-size="11.4" text-anchor="middle" font-family="Liberation Sans, Arial, sans-serif" font-weight="bold" stroke="#000" stroke-width="0.3" fill="#000"  >1.2AZO</text>
<text x="374.80" y="183.70" font-size="11.4" text-anchor="middle" font-family="Liberation Sans, Arial, sans-serif" font-weight="bold" stroke="#000" stroke-width="0.3" fill="#000"  >2.4AZO</text>
<text x="425.80" y="183.70" font-size="11.4" text-anchor="middle" font-family="Liberation Sans, Arial, sans-serif" font-weight="bold" stroke="#000" stroke-width="0.3" fill="#000"  >6AZO</text>
<text x="476.90" y="183.70" font-size="11.4" text-anchor="middle" font-family="Liberation Sans, Arial, sans-serif" font-weight="bold" stroke="#000" stroke-width="0.3" fill="#000"  >12AZO</text>
<text x="400.40" y="200.80" font-size="12.3" text-anchor="middle" font-family="Liberation Sans, Arial, sans-serif" font-weight="bold" stroke="#000" stroke-width="0.3" fill="#000" textLength="81" lengthAdjust="spacingAndGlyphs" >Sample code</text>
<text transform="translate(269.70,88.50) rotate(-90)" font-size="13.3" text-anchor="middle" font-family="Liberation Sans, Arial, sans-serif" font-weight="bold" stroke="#000" stroke-width="0.3" fill="#000" textLength="99.3" lengthAdjust="spacingAndGlyphs" >Atomic ratio (%)</text>
<text transform="translate(539.80,88.00) rotate(90)" font-size="13.4" text-anchor="middle" font-family="Liberation Sans, Arial, sans-serif" font-weight="bold" stroke="#000" stroke-width="0.3" fill="#000" textLength="92.7" lengthAdjust="spacingAndGlyphs" >O/(Zn+Al) ratio</text>
<text x="307.50" y="46.00" font-size="16" text-anchor="start" font-family="Liberation Serif, Times New Roman, serif" font-weight="bold" stroke="#000" stroke-width="0.25" fill="#000"  >(b)</text>
<line x1="318.50" y1="23.20" x2="307.00" y2="23.20" stroke="#000" stroke-width="1.2" />
<path d="M305.5,23.2 L311.2,20.9 L311.2,25.5 Z" fill="#000"/>
<line x1="318.50" y1="95.50" x2="307.00" y2="95.50" stroke="#000" stroke-width="1.2" />
<path d="M305.5,95.5 L311.2,93.2 L311.2,97.8 Z" fill="#000"/>
<line x1="318.50" y1="145.40" x2="307.00" y2="145.40" stroke="#000" stroke-width="1.2" />
<path d="M305.5,145.4 L311.2,143.1 L311.2,147.70000000000002 Z" fill="#000"/>
<line x1="483.00" y1="42.00" x2="494.50" y2="42.00" stroke="#000" stroke-width="1.2" />
<path d="M496.0,42 L490.3,39.7 L490.3,44.3 Z" fill="#000"/>
<line x1="408.00" y1="101.20" x2="436.00" y2="101.20" stroke="#ff2a2a" stroke-width="1.3" />
<circle cx="422.3" cy="101.2" r="2.8" fill="#fff" stroke="#ff2a2a" stroke-width="1"/>
<text x="440.00" y="105.30" font-size="12" text-anchor="start" font-family="Liberation Sans, Arial, sans-serif" font-weight="bold" stroke="#000" stroke-width="0.3" fill="#000"  >Zn</text>
<line x1="408.00" y1="116.20" x2="436.00" y2="116.20" stroke="#1515c8" stroke-width="1.3" />
<path d="M418.90000000000003,118.60000000000001 L425.7,118.60000000000001 L422.3,112.60000000000001 Z" fill="#fff" stroke="#2525d8" stroke-width="1"/>
<text x="440.00" y="120.30" font-size="12" text-anchor="start" font-family="Liberation Sans, Arial, sans-serif" font-weight="bold" stroke="#000" stroke-width="0.3" fill="#000"  >O</text>
<line x1="408.00" y1="130.80" x2="436.00" y2="130.80" stroke="#101060" stroke-width="1.3" />
<rect x="419.6" y="128.10000000000002" width="5.4" height="5.4" fill="#fff" stroke="#555" stroke-width="1"/>
<text x="440.00" y="134.90" font-size="12" text-anchor="start" font-family="Liberation Sans, Arial, sans-serif" font-weight="bold" stroke="#000" stroke-width="0.3" fill="#000"  >Al</text>
<line x1="408.00" y1="145.00" x2="436.00" y2="145.00" stroke="#008080" stroke-width="1.3" />
<path d="M418.40000000000003,145.0 L422.3,141.1 L426.2,145.0 L422.3,148.9 Z" fill="#007070" stroke="#007070" stroke-width="0.6"/>
<text x="440.00" y="149.10" font-size="12" text-anchor="start" font-family="Liberation Sans, Arial, sans-serif" font-weight="bold" stroke="#000" stroke-width="0.3" fill="#000"  >O/(Al+Zn)</text>
</g>
<g id="pc">
<circle cx="583.4" cy="164.1" r="2.5" fill="none" stroke="#000" stroke-width="1.1"/>
<circle cx="587.0" cy="164.2" r="2.5" fill="none" stroke="#000" stroke-width="1.1"/>
<circle cx="590.0" cy="162.1" r="2.5" fill="none" stroke="#000" stroke-width="1.1"/>
<circle cx="593.0" cy="163.4" r="2.5" fill="none" stroke="#000" stroke-width="1.1"/>
<circle cx="595.2" cy="162.3" r="2.5" fill="none" stroke="#000" stroke-width="1.1"/>
<circle cx="598.0" cy="163.5" r="2.5" fill="none" stroke="#000" stroke-width="1.1"/>
<circle cx="601.1" cy="162.4" r="2.5" fill="none" stroke="#000" stroke-width="1.1"/>
<circle cx="604.1" cy="163.1" r="2.5" fill="none" stroke="#000" stroke-width="1.1"/>
<circle cx="607.5" cy="157.9" r="2.5" fill="none" stroke="#000" stroke-width="1.1"/>
<circle cx="610.1" cy="158.5" r="2.5" fill="none" stroke="#000" stroke-width="1.1"/>
<circle cx="613.0" cy="156.1" r="2.5" fill="none" stroke="#000" stroke-width="1.1"/>
<circle cx="615.9" cy="156.2" r="2.5" fill="none" stroke="#000" stroke-width="1.1"/>
<circle cx="619.5" cy="152.1" r="2.5" fill="none" stroke="#000" stroke-width="1.1"/>
<circle cx="623.0" cy="145.3" r="2.5" fill="none" stroke="#000" stroke-width="1.1"/>
<circle cx="626.7" cy="134.3" r="2.5" fill="none" stroke="#000" stroke-width="1.1"/>
<circle cx="629.0" cy="127.2" r="2.5" fill="none" stroke="#000" stroke-width="1.1"/>
<circle cx="632.1" cy="115.4" r="2.5" fill="none" stroke="#000" stroke-width="1.1"/>
<circle cx="635.1" cy="103.9" r="2.5" fill="none" stroke="#000" stroke-width="1.1"/>
<circle cx="638.5" cy="91.7" r="2.5" fill="none" stroke="#000" stroke-width="1.1"/>
<circle cx="640.6" cy="72.6" r="2.5" fill="none" stroke="#000" stroke-width="1.1"/>
<circle cx="644.4" cy="62.8" r="2.5" fill="none" stroke="#000" stroke-width="1.1"/>
<circle cx="646.9" cy="48.3" r="2.5" fill="none" stroke="#000" stroke-width="1.1"/>
<circle cx="649.8" cy="38.1" r="2.5" fill="none" stroke="#000" stroke-width="1.1"/>
<circle cx="653.2" cy="31.7" r="2.5" fill="none" stroke="#000" stroke-width="1.1"/>
<circle cx="656.2" cy="30.5" r="2.5" fill="none" stroke="#000" stroke-width="1.1"/>
<circle cx="658.5" cy="26.0" r="2.5" fill="none" stroke="#000" stroke-width="1.1"/>
<circle cx="661.7" cy="33.6" r="2.5" fill="none" stroke="#000" stroke-width="1.1"/>
<circle cx="664.8" cy="39.2" r="2.5" fill="none" stroke="#000" stroke-width="1.1"/>
<circle cx="667.7" cy="49.1" r="2.5" fill="none" stroke="#000" stroke-width="1.1"/>
<circle cx="670.8" cy="54.2" r="2.5" fill="none" stroke="#000" stroke-width="1.1"/>
<circle cx="673.0" cy="63.1" r="2.5" fill="none" stroke="#000" stroke-width="1.1"/>
<circle cx="676.7" cy="76.7" r="2.5" fill="none" stroke="#000" stroke-width="1.1"/>
<circle cx="679.5" cy="87.4" r="2.5" fill="none" stroke="#000" stroke-width="1.1"/>
<circle cx="682.1" cy="101.7" r="2.5" fill="none" stroke="#000" stroke-width="1.1"/>
<circle cx="685.4" cy="108.4" r="2.5" fill="none" stroke="#000" stroke-width="1.1"/>
<circle cx="688.4" cy="117.2" r="2.5" fill="none" stroke="#000" stroke-width="1.1"/>
<circle cx="691.1" cy="124.2" r="2.5" fill="none" stroke="#000" stroke-width="1.1"/>
<circle cx="694.1" cy="130.2" r="2.5" fill="none" stroke="#000" stroke-width="1.1"/>
<circle cx="697.1" cy="133.5" r="2.5" fill="none" stroke="#000" stroke-width="1.1"/>
<circle cx="698.1" cy="138.8" r="2.5" fill="none" stroke="#000" stroke-width="1.1"/>
<circle cx="701.9" cy="139.5" r="2.5" fill="none" stroke="#000" stroke-width="1.1"/>
<circle cx="704.6" cy="143.4" r="2.5" fill="none" stroke="#000" stroke-width="1.1"/>
<circle cx="707.1" cy="143.4" r="2.5" fill="none" stroke="#000" stroke-width="1.1"/>
<circle cx="710.1" cy="140.3" r="2.5" fill="none" stroke="#000" stroke-width="1.1"/>
<circle cx="713.1" cy="144.3" r="2.5" fill="none" stroke="#000" stroke-width="1.1"/>
<circle cx="715.7" cy="140.5" r="2.5" fill="none" stroke="#000" stroke-width="1.1"/>
<circle cx="719.1" cy="138.5" r="2.5" fill="none" stroke="#000" stroke-width="1.1"/>
<circle cx="721.9" cy="142.0" r="2.5" fill="none" stroke="#000" stroke-width="1.1"/>
<circle cx="724.8" cy="141.0" r="2.5" fill="none" stroke="#000" stroke-width="1.1"/>
<circle cx="727.5" cy="141.2" r="2.5" fill="none" stroke="#000" stroke-width="1.1"/>
<circle cx="731.1" cy="146.1" r="2.5" fill="none" stroke="#000" stroke-width="1.1"/>
<circle cx="733.6" cy="151.3" r="2.5" fill="none" stroke="#000" stroke-width="1.1"/>
<circle cx="736.8" cy="153.0" r="2.5" fill="none" stroke="#000" stroke-width="1.1"/>
<circle cx="739.5" cy="151.5" r="2.5" fill="none" stroke="#000" stroke-width="1.1"/>
<circle cx="743.0" cy="158.2" r="2.5" fill="none" stroke="#000" stroke-width="1.1"/>
<circle cx="745.4" cy="158.1" r="2.5" fill="none" stroke="#000" stroke-width="1.1"/>
<circle cx="748.4" cy="160.4" r="2.5" fill="none" stroke="#000" stroke-width="1.1"/>
<circle cx="752.0" cy="164.0" r="2.5" fill="none" stroke="#000" stroke-width="1.1"/>
<circle cx="754.2" cy="160.4" r="2.5" fill="none" stroke="#000" stroke-width="1.1"/>
<circle cx="757.4" cy="162.2" r="2.5" fill="none" stroke="#000" stroke-width="1.1"/>
<circle cx="760.0" cy="160.2" r="2.5" fill="none" stroke="#000" stroke-width="1.1"/>
<circle cx="763.2" cy="158.7" r="2.5" fill="none" stroke="#000" stroke-width="1.1"/>
<circle cx="765.9" cy="164.0" r="2.5" fill="none" stroke="#000" stroke-width="1.1"/>
<circle cx="768.8" cy="164.2" r="2.5" fill="none" stroke="#000" stroke-width="1.1"/>
<circle cx="772.6" cy="164.2" r="2.5" fill="none" stroke="#000" stroke-width="1.1"/>
<circle cx="775.5" cy="163.7" r="2.5" fill="none" stroke="#000" stroke-width="1.1"/>
<circle cx="778.5" cy="162.3" r="2.5" fill="none" stroke="#000" stroke-width="1.1"/>
<circle cx="780.8" cy="156.5" r="2.5" fill="none" stroke="#000" stroke-width="1.1"/>
<circle cx="784.2" cy="164.2" r="2.5" fill="none" stroke="#000" stroke-width="1.1"/>
<circle cx="786.4" cy="164.2" r="2.5" fill="none" stroke="#000" stroke-width="1.1"/>
<circle cx="789.7" cy="162.1" r="2.5" fill="none" stroke="#000" stroke-width="1.1"/>
<circle cx="792.6" cy="161.4" r="2.5" fill="none" stroke="#000" stroke-width="1.1"/>
<circle cx="795.5" cy="163.1" r="2.5" fill="none" stroke="#000" stroke-width="1.1"/>
<circle cx="798.5" cy="163.1" r="2.5" fill="none" stroke="#000" stroke-width="1.1"/>
<circle cx="802.1" cy="163.9" r="2.5" fill="none" stroke="#000" stroke-width="1.1"/>
<path d="M582.1,164.1 L583.3,164.1 L584.6,164.1 L585.8,164.1 L587.0,164.1 L588.3,164.1 L589.5,164.1 L590.7,164.0 L592.0,164.0 L593.2,164.0 L594.5,164.0 L595.7,163.9 L596.9,163.9 L598.2,163.8 L599.4,163.7 L600.6,163.6 L601.9,163.4 L603.1,163.2 L604.3,163.0 L605.6,162.7 L606.8,162.3 L608.0,161.8 L609.3,161.3 L610.5,160.6 L611.7,159.8 L613.0,158.8 L614.2,157.7 L615.5,156.4 L616.7,154.9 L617.9,153.1 L619.2,151.0 L620.4,148.7 L621.6,146.1 L622.9,143.2 L624.1,139.9 L625.3,136.3 L626.6,132.3 L627.8,128.0 L629.0,123.4 L630.3,118.5 L631.5,113.2 L632.7,107.7 L634.0,101.9 L635.2,96.0 L636.4,90.0 L637.7,83.9 L638.9,77.8 L640.2,71.8 L641.4,65.9 L642.6,60.3 L643.9,54.9 L645.1,50.0 L646.3,45.4 L647.6,41.4 L648.8,37.9 L650.0,34.9 L651.3,32.6 L652.5,30.9 L653.7,29.8 L655.0,29.3 L656.2,29.3 L657.4,30.0 L658.7,31.1 L659.9,32.8 L661.2,34.9 L662.4,37.3 L663.6,40.1 L664.9,43.3 L666.1,46.7 L667.3,50.4 L668.6,54.2 L669.8,58.3 L671.0,62.5 L672.3,66.8 L673.5,71.2 L674.7,75.8 L676.0,80.3 L677.2,84.9 L678.4,89.4 L679.7,93.9 L680.9,98.2 L682.2,102.5 L683.4,106.6 L684.6,110.5 L685.9,114.2 L687.1,117.7 L688.3,120.9 L689.6,123.9 L690.8,126.7 L692.0,129.2 L693.3,131.5 L694.5,133.5 L695.7,135.3 L697.0,136.9 L698.2,138.2 L699.4,139.3 L700.7,140.3 L701.9,141.0 L703.1,141.6 L704.4,142.0 L705.6,142.3 L706.9,142.4 L708.1,142.4 L709.3,142.4 L710.6,142.3 L711.8,142.2 L713.0,142.1 L714.3,141.9 L715.5,141.8 L716.7,141.8 L718.0,141.8 L719.2,141.9 L720.4,142.1 L721.7,142.4 L722.9,142.8 L724.1,143.3 L725.4,143.9 L726.6,144.6 L727.9,145.4 L729.1,146.3 L730.3,147.2 L731.6,148.2 L732.8,149.2 L734.0,150.3 L735.3,151.3 L736.5,152.4 L737.7,153.4 L739.0,154.4 L740.2,155.4 L741.4,156.3 L742.7,157.1 L743.9,157.9 L745.1,158.7 L746.4,159.3 L747.6,159.9 L748.9,160.5 L750.1,161.0 L751.3,161.4 L752.6,161.8 L753.8,162.1 L755.0,162.3 L756.3,162.6 L757.5,162.8 L758.7,162.9 L760.0,163.1 L761.2,163.2 L762.4,163.3 L763.7,163.3 L764.9,163.4 L766.1,163.4 L767.4,163.5 L768.6,163.5 L769.8,163.5 L771.1,163.5 L772.3,163.6 L773.6,163.6 L774.8,163.6 L776.0,163.6 L777.3,163.6 L778.5,163.6 L779.7,163.6 L781.0,163.6 L782.2,163.6 L783.4,163.6 L784.7,163.6 L785.9,163.6 L787.1,163.6 L788.4,163.6 L789.6,163.6 L790.8,163.6 L792.1,163.6 L793.3,163.6 L794.6,163.6 L795.8,163.6 L797.0,163.6 L798.3,163.6 L799.5,163.6 L800.7,163.6 L802.0,163.6 L803.2,163.6" stroke="#ff0000" stroke-width="2.0" fill="none" stroke-linejoin="round" />
<path d="M591.6,164.5 L592.5,164.5 L593.3,164.5 L594.2,164.5 L595.1,164.4 L596.0,164.4 L596.9,164.4 L597.8,164.3 L598.7,164.2 L599.6,164.2 L600.4,164.1 L601.3,164.0 L602.2,163.9 L603.1,163.7 L604.0,163.5 L604.9,163.3 L605.8,163.1 L606.6,162.8 L607.5,162.5 L608.4,162.2 L609.3,161.8 L610.2,161.3 L611.1,160.8 L612.0,160.2 L612.8,159.5 L613.7,158.7 L614.6,157.8 L615.5,156.9 L616.4,155.8 L617.3,154.6 L618.2,153.3 L619.0,151.8 L619.9,150.2 L620.8,148.5 L621.7,146.6 L622.6,144.5 L623.5,142.3 L624.4,139.9 L625.3,137.3 L626.1,134.6 L627.0,131.6 L627.9,128.5 L628.8,125.3 L629.7,121.9 L630.6,118.3 L631.5,114.6 L632.3,110.8 L633.2,106.8 L634.1,102.8 L635.0,98.7 L635.9,94.5 L636.8,90.3 L637.7,86.1 L638.5,81.9 L639.4,77.8 L640.3,73.8 L641.2,69.8 L642.1,66.0 L643.0,62.4 L643.9,59.0 L644.7,55.8 L645.6,52.8 L646.5,50.2 L647.4,47.8 L648.3,45.8 L649.2,44.1 L650.1,42.8 L651.0,41.8 L651.8,41.3 L652.7,41.1 L653.6,41.3 L654.5,41.9 L655.4,42.9 L656.3,44.2 L657.2,45.9 L658.0,48.0 L658.9,50.4 L659.8,53.0 L660.7,56.0 L661.6,59.2 L662.5,62.6 L663.4,66.3 L664.2,70.1 L665.1,74.0 L666.0,78.1 L666.9,82.2 L667.8,86.4 L668.7,90.6 L669.6,94.8 L670.4,99.0 L671.3,103.1 L672.2,107.1 L673.1,111.0 L674.0,114.9 L674.9,118.6 L675.8,122.1 L676.7,125.5 L677.5,128.8 L678.4,131.8 L679.3,134.8 L680.2,137.5 L681.1,140.1 L682.0,142.4 L682.9,144.7 L683.7,146.7 L684.6,148.6 L685.5,150.3 L686.4,151.9 L687.3,153.4 L688.2,154.7 L689.1,155.9 L689.9,157.0 L690.8,157.9 L691.7,158.8 L692.6,159.5 L693.5,160.2 L694.4,160.8 L695.3,161.3 L696.1,161.8 L697.0,162.2 L697.9,162.6 L698.8,162.9 L699.7,163.1 L700.6,163.4 L701.5,163.6 L702.4,163.7 L703.2,163.9 L704.1,164.0 L705.0,164.1 L705.9,164.2 L706.8,164.2 L707.7,164.3 L708.6,164.4 L709.4,164.4 L710.3,164.4 L711.2,164.5 L712.1,164.5 L713.0,164.5 L713.9,164.5 L714.8,164.5 Z" stroke="none" stroke-width="0" fill="#868600" stroke-linejoin="round" />
<path d="M620.0,164.6 L620.9,164.6 L621.7,164.6 L622.6,164.5 L623.5,164.5 L624.3,164.5 L625.2,164.5 L626.0,164.5 L626.9,164.5 L627.8,164.4 L628.6,164.4 L629.5,164.4 L630.4,164.3 L631.2,164.3 L632.1,164.2 L633.0,164.2 L633.8,164.1 L634.7,164.0 L635.5,163.9 L636.4,163.8 L637.3,163.6 L638.1,163.5 L639.0,163.3 L639.9,163.1 L640.7,162.9 L641.6,162.7 L642.5,162.4 L643.3,162.1 L644.2,161.8 L645.0,161.4 L645.9,161.1 L646.8,160.6 L647.6,160.2 L648.5,159.7 L649.4,159.1 L650.2,158.5 L651.1,157.9 L652.0,157.2 L652.8,156.5 L653.7,155.7 L654.5,154.9 L655.4,154.0 L656.3,153.1 L657.1,152.2 L658.0,151.2 L658.9,150.2 L659.7,149.2 L660.6,148.1 L661.5,147.0 L662.3,145.9 L663.2,144.8 L664.0,143.7 L664.9,142.6 L665.8,141.5 L666.6,140.4 L667.5,139.4 L668.4,138.3 L669.2,137.4 L670.1,136.4 L670.9,135.6 L671.8,134.7 L672.7,134.0 L673.5,133.3 L674.4,132.7 L675.3,132.2 L676.1,131.8 L677.0,131.5 L677.9,131.3 L678.7,131.1 L679.6,131.1 L680.4,131.2 L681.3,131.3 L682.2,131.6 L683.0,132.0 L683.9,132.4 L684.8,133.0 L685.6,133.6 L686.5,134.3 L687.4,135.1 L688.2,136.0 L689.1,136.9 L689.9,137.8 L690.8,138.8 L691.7,139.9 L692.5,140.9 L693.4,142.0 L694.3,143.1 L695.1,144.2 L696.0,145.3 L696.9,146.4 L697.7,147.5 L698.6,148.6 L699.4,149.6 L700.3,150.7 L701.2,151.7 L702.0,152.6 L702.9,153.5 L703.8,154.4 L704.6,155.3 L705.5,156.1 L706.4,156.8 L707.2,157.5 L708.1,158.2 L708.9,158.8 L709.8,159.4 L710.7,159.9 L711.5,160.4 L712.4,160.8 L713.3,161.2 L714.1,161.6 L715.0,162.0 L715.9,162.3 L716.7,162.5 L717.6,162.8 L718.4,163.0 L719.3,163.2 L720.2,163.4 L721.0,163.6 L721.9,163.7 L722.8,163.8 L723.6,163.9 L724.5,164.0 L725.3,164.1 L726.2,164.2 L727.1,164.2 L727.9,164.3 L728.8,164.3 L729.7,164.4 L730.5,164.4 L731.4,164.5 L732.3,164.5 L733.1,164.5 L734.0,164.5 L734.8,164.5 L735.7,164.5 L736.6,164.6 L737.4,164.6 L738.3,164.6 L739.2,164.6 L740.0,164.6" stroke="#000" stroke-width="1.8" fill="none" stroke-linejoin="round" />
<path d="M591.6,164.5 L592.5,164.5 L593.3,164.5 L594.2,164.5 L595.1,164.4 L596.0,164.4 L596.9,164.4 L597.8,164.3 L598.7,164.2 L599.6,164.2 L600.4,164.1 L601.3,164.0 L602.2,163.9 L603.1,163.7 L604.0,163.5 L604.9,163.3 L605.8,163.1 L606.6,162.8 L607.5,162.5 L608.4,162.2 L609.3,161.8 L610.2,161.3 L611.1,160.8 L612.0,160.2 L612.8,159.5 L613.7,158.7 L614.6,157.8 L615.5,156.9 L616.4,155.8 L617.3,154.6 L618.2,153.3 L619.0,151.8 L619.9,150.2 L620.8,148.5 L621.7,146.6 L622.6,144.5 L623.5,142.3 L624.4,139.9 L625.3,137.3 L626.1,134.6 L627.0,131.6 L627.9,128.5 L628.8,125.3 L629.7,121.9 L630.6,118.3 L631.5,114.6 L632.3,110.8 L633.2,106.8 L634.1,102.8 L635.0,98.7 L635.9,94.5 L636.8,90.3 L637.7,86.1 L638.5,81.9 L639.4,77.8 L640.3,73.8 L641.2,69.8 L642.1,66.0 L643.0,62.4 L643.9,59.0 L644.7,55.8 L645.6,52.8 L646.5,50.2 L647.4,47.8 L648.3,45.8 L649.2,44.1 L650.1,42.8 L651.0,41.8 L651.8,41.3 L652.7,41.1 L653.6,41.3 L654.5,41.9 L655.4,42.9 L656.3,44.2 L657.2,45.9 L658.0,48.0 L658.9,50.4 L659.8,53.0 L660.7,56.0 L661.6,59.2 L662.5,62.6 L663.4,66.3 L664.2,70.1 L665.1,74.0 L666.0,78.1 L666.9,82.2 L667.8,86.4 L668.7,90.6 L669.6,94.8 L670.4,99.0 L671.3,103.1 L672.2,107.1 L673.1,111.0 L674.0,114.9 L674.9,118.6 L675.8,122.1 L676.7,125.5 L677.5,128.8 L678.4,131.8 L679.3,134.8 L680.2,137.5 L681.1,140.1 L682.0,142.4 L682.9,144.7 L683.7,146.7 L684.6,148.6 L685.5,150.3 L686.4,151.9 L687.3,153.4 L688.2,154.7 L689.1,155.9 L689.9,157.0 L690.8,157.9 L691.7,158.8 L692.6,159.5 L693.5,160.2 L694.4,160.8 L695.3,161.3 L696.1,161.8 L697.0,162.2 L697.9,162.6 L698.8,162.9 L699.7,163.1 L700.6,163.4 L701.5,163.6 L702.4,163.7 L703.2,163.9 L704.1,164.0 L705.0,164.1 L705.9,164.2 L706.8,164.2 L707.7,164.3 L708.6,164.4 L709.4,164.4 L710.3,164.4 L711.2,164.5 L712.1,164.5 L713.0,164.5 L713.9,164.5 L714.8,164.5" stroke="#000" stroke-width="2.1" fill="none" stroke-linejoin="round" />
<path d="M667.4,164.6 L668.2,164.6 L668.9,164.6 L669.7,164.6 L670.5,164.6 L671.2,164.5 L672.0,164.5 L672.8,164.5 L673.6,164.5 L674.3,164.5 L675.1,164.5 L675.9,164.5 L676.7,164.4 L677.4,164.4 L678.2,164.4 L679.0,164.3 L679.7,164.3 L680.5,164.2 L681.3,164.2 L682.1,164.1 L682.8,164.0 L683.6,163.9 L684.4,163.8 L685.2,163.7 L685.9,163.6 L686.7,163.5 L687.5,163.3 L688.2,163.2 L689.0,163.0 L689.8,162.8 L690.6,162.6 L691.3,162.3 L692.1,162.1 L692.9,161.8 L693.6,161.5 L694.4,161.2 L695.2,160.8 L696.0,160.4 L696.7,160.1 L697.5,159.6 L698.3,159.2 L699.1,158.7 L699.8,158.2 L700.6,157.7 L701.4,157.2 L702.1,156.7 L702.9,156.1 L703.7,155.6 L704.5,155.0 L705.2,154.4 L706.0,153.8 L706.8,153.2 L707.6,152.6 L708.3,152.0 L709.1,151.4 L709.9,150.9 L710.6,150.3 L711.4,149.8 L712.2,149.3 L713.0,148.8 L713.7,148.3 L714.5,147.9 L715.3,147.5 L716.1,147.2 L716.8,146.9 L717.6,146.6 L718.4,146.4 L719.1,146.3 L719.9,146.2 L720.7,146.1 L721.5,146.1 L722.2,146.2 L723.0,146.3 L723.8,146.4 L724.6,146.6 L725.3,146.9 L726.1,147.2 L726.9,147.5 L727.6,147.9 L728.4,148.3 L729.2,148.8 L730.0,149.3 L730.7,149.8 L731.5,150.3 L732.3,150.9 L733.1,151.4 L733.8,152.0 L734.6,152.6 L735.4,153.2 L736.1,153.8 L736.9,154.4 L737.7,155.0 L738.5,155.6 L739.2,156.1 L740.0,156.7 L740.8,157.2 L741.6,157.7 L742.3,158.2 L743.1,158.7 L743.9,159.2 L744.6,159.6 L745.4,160.1 L746.2,160.4 L747.0,160.8 L747.7,161.2 L748.5,161.5 L749.3,161.8 L750.0,162.1 L750.8,162.3 L751.6,162.6 L752.4,162.8 L753.1,163.0 L753.9,163.2 L754.7,163.3 L755.5,163.5 L756.2,163.6 L757.0,163.7 L757.8,163.8 L758.5,163.9 L759.3,164.0 L760.1,164.1 L760.9,164.2 L761.6,164.2 L762.4,164.3 L763.2,164.3 L764.0,164.4 L764.7,164.4 L765.5,164.4 L766.3,164.5 L767.0,164.5 L767.8,164.5 L768.6,164.5 L769.4,164.5 L770.1,164.5 L770.9,164.5 L771.7,164.6 L772.5,164.6 L773.2,164.6 L774.0,164.6 L774.8,164.6 Z" stroke="none" stroke-width="0" fill="#ff00ff" stroke-linejoin="round" />
<path d="M667.4,164.6 L668.2,164.6 L668.9,164.6 L669.7,164.6 L670.5,164.6 L671.2,164.5 L672.0,164.5 L672.8,164.5 L673.6,164.5 L674.3,164.5 L675.1,164.5 L675.9,164.5 L676.7,164.4 L677.4,164.4 L678.2,164.4 L679.0,164.3 L679.7,164.3 L680.5,164.2 L681.3,164.2 L682.1,164.1 L682.8,164.0 L683.6,163.9 L684.4,163.8 L685.2,163.7 L685.9,163.6 L686.7,163.5 L687.5,163.3 L688.2,163.2 L689.0,163.0 L689.8,162.8 L690.6,162.6 L691.3,162.3 L692.1,162.1 L692.9,161.8 L693.6,161.5 L694.4,161.2 L695.2,160.8 L696.0,160.4 L696.7,160.1 L697.5,159.6 L698.3,159.2 L699.1,158.7 L699.8,158.2 L700.6,157.7 L701.4,157.2 L702.1,156.7 L702.9,156.1 L703.7,155.6 L704.5,155.0 L705.2,154.4 L706.0,153.8 L706.8,153.2 L707.6,152.6 L708.3,152.0 L709.1,151.4 L709.9,150.9 L710.6,150.3 L711.4,149.8 L712.2,149.3 L713.0,148.8 L713.7,148.3 L714.5,147.9 L715.3,147.5 L716.1,147.2 L716.8,146.9 L717.6,146.6 L718.4,146.4 L719.1,146.3 L719.9,146.2 L720.7,146.1 L721.5,146.1 L722.2,146.2 L723.0,146.3 L723.8,146.4 L724.6,146.6 L725.3,146.9 L726.1,147.2 L726.9,147.5 L727.6,147.9 L728.4,148.3 L729.2,148.8 L730.0,149.3 L730.7,149.8 L731.5,150.3 L732.3,150.9 L733.1,151.4 L733.8,152.0 L734.6,152.6 L735.4,153.2 L736.1,153.8 L736.9,154.4 L737.7,155.0 L738.5,155.6 L739.2,156.1 L740.0,156.7 L740.8,157.2 L741.6,157.7 L742.3,158.2 L743.1,158.7 L743.9,159.2 L744.6,159.6 L745.4,160.1 L746.2,160.4 L747.0,160.8 L747.7,161.2 L748.5,161.5 L749.3,161.8 L750.0,162.1 L750.8,162.3 L751.6,162.6 L752.4,162.8 L753.1,163.0 L753.9,163.2 L754.7,163.3 L755.5,163.5 L756.2,163.6 L757.0,163.7 L757.8,163.8 L758.5,163.9 L759.3,164.0 L760.1,164.1 L760.9,164.2 L761.6,164.2 L762.4,164.3 L763.2,164.3 L764.0,164.4 L764.7,164.4 L765.5,164.4 L766.3,164.5 L767.0,164.5 L767.8,164.5 L768.6,164.5 L769.4,164.5 L770.1,164.5 L770.9,164.5 L771.7,164.6 L772.5,164.6 L773.2,164.6 L774.0,164.6 L774.8,164.6" stroke="#000" stroke-width="1.9" fill="none" stroke-linejoin="round" />
<line x1="652.69" y1="18.00" x2="652.69" y2="164.60" stroke="#000" stroke-width="1.5" stroke-dasharray="1.9 4.0"/>
<line x1="679.38" y1="68.50" x2="679.38" y2="164.60" stroke="#000" stroke-width="1.5" stroke-dasharray="1.9 4.0"/>
<line x1="721.08" y1="124.30" x2="721.08" y2="164.60" stroke="#000" stroke-width="1.5" stroke-dasharray="1.9 4.0"/>
<rect x="582.1" y="164.0" width="221.10000000000002" height="4.300000000000017" fill="#000"/>
<rect x="582.1" y="5.2" width="221.10000000000002" height="162.10000000000002" fill="none" stroke="#000" stroke-width="1.9000000000000001"/>
<line x1="582.10" y1="167.30" x2="582.10" y2="173.70" stroke="#000" stroke-width="1.5" />
<line x1="597.89" y1="167.30" x2="597.89" y2="170.90" stroke="#000" stroke-width="1.5" />
<line x1="613.69" y1="167.30" x2="613.69" y2="173.70" stroke="#000" stroke-width="1.5" />
<line x1="629.48" y1="167.30" x2="629.48" y2="170.90" stroke="#000" stroke-width="1.5" />
<line x1="645.27" y1="167.30" x2="645.27" y2="173.70" stroke="#000" stroke-width="1.5" />
<line x1="661.06" y1="167.30" x2="661.06" y2="170.90" stroke="#000" stroke-width="1.5" />
<line x1="676.86" y1="167.30" x2="676.86" y2="173.70" stroke="#000" stroke-width="1.5" />
<line x1="692.65" y1="167.30" x2="692.65" y2="170.90" stroke="#000" stroke-width="1.5" />
<line x1="708.44" y1="167.30" x2="708.44" y2="173.70" stroke="#000" stroke-width="1.5" />
<line x1="724.24" y1="167.30" x2="724.24" y2="170.90" stroke="#000" stroke-width="1.5" />
<line x1="740.03" y1="167.30" x2="740.03" y2="173.70" stroke="#000" stroke-width="1.5" />
<line x1="755.82" y1="167.30" x2="755.82" y2="170.90" stroke="#000" stroke-width="1.5" />
<line x1="771.61" y1="167.30" x2="771.61" y2="173.70" stroke="#000" stroke-width="1.5" />
<line x1="787.41" y1="167.30" x2="787.41" y2="170.90" stroke="#000" stroke-width="1.5" />
<line x1="803.20" y1="167.30" x2="803.20" y2="173.70" stroke="#000" stroke-width="1.5" />
<text x="582.10" y="186.40" font-size="11.5" text-anchor="middle" font-family="Liberation Sans, Arial, sans-serif" font-weight="bold" stroke="#000" stroke-width="0.3" fill="#000"  >528</text>
<text x="613.69" y="186.40" font-size="11.5" text-anchor="middle" font-family="Liberation Sans, Arial, sans-serif" font-weight="bold" stroke="#000" stroke-width="0.3" fill="#000"  >529</text>
<text x="645.27" y="186.40" font-size="11.5" text-anchor="middle" font-family="Liberation Sans, Arial, sans-serif" font-weight="bold" stroke="#000" stroke-width="0.3" fill="#000"  >530</text>
<text x="676.86" y="186.40" font-size="11.5" text-anchor="middle" font-family="Liberation Sans, Arial, sans-serif" font-weight="bold" stroke="#000" stroke-width="0.3" fill="#000"  >531</text>
<text x="708.44" y="186.40" font-size="11.5" text-anchor="middle" font-family="Liberation Sans, Arial, sans-serif" font-weight="bold" stroke="#000" stroke-width="0.3" fill="#000"  >532</text>
<text x="740.03" y="186.40" font-size="11.5" text-anchor="middle" font-family="Liberation Sans, Arial, sans-serif" font-weight="bold" stroke="#000" stroke-width="0.3" fill="#000"  >533</text>
<text x="771.61" y="186.40" font-size="11.5" text-anchor="middle" font-family="Liberation Sans, Arial, sans-serif" font-weight="bold" stroke="#000" stroke-width="0.3" fill="#000"  >534</text>
<text x="803.20" y="186.40" font-size="11.5" text-anchor="middle" font-family="Liberation Sans, Arial, sans-serif" font-weight="bold" stroke="#000" stroke-width="0.3" fill="#000"  >535</text>
<text x="686.70" y="200.10" font-size="12.2" text-anchor="middle" font-family="Liberation Sans, Arial, sans-serif" font-weight="bold" stroke="#000" stroke-width="0.3" fill="#000" textLength="119.7" lengthAdjust="spacingAndGlyphs" >Binding energy (eV)</text>
<text transform="translate(575.20,89.40) rotate(-90)" font-size="13.5" text-anchor="middle" font-family="Liberation Sans, Arial, sans-serif" font-weight="bold" stroke="#000" stroke-width="0.3" fill="#000" textLength="48" lengthAdjust="spacingAndGlyphs" >Count/s</text>
<text x="589.50" y="46.20" font-size="16" text-anchor="start" font-family="Liberation Serif, Times New Roman, serif" font-weight="bold" stroke="#000" stroke-width="0.25" fill="#000"  >(c)</text>
<text x="647.6" y="15.9" font-size="11.4" font-family="Liberation Sans, Arial, sans-serif" font-weight="bold" stroke="#000" stroke-width="0.3">O<tspan font-size="6.8" font-weight="normal" fill="#333" stroke="#333" stroke-width="0.2">i</tspan></text>
<text x="676.0" y="66.5" font-size="11.4" font-family="Liberation Sans, Arial, sans-serif" font-weight="bold" stroke="#000" stroke-width="0.3">O<tspan font-size="6.8" font-weight="normal" fill="#333" stroke="#333" stroke-width="0.2">ii</tspan></text>
<text x="716.0" y="122.0" font-size="11.4" font-family="Liberation Sans, Arial, sans-serif" font-weight="bold" stroke="#000" stroke-width="0.3">O<tspan font-size="6.8" font-weight="normal" fill="#333" stroke="#333" stroke-width="0.2">iii</tspan></text>
<circle cx="720.5" cy="17.7" r="2.4" fill="none" stroke="#000" stroke-width="1.3"/>
<text x="737.30" y="21.50" font-size="11.7" text-anchor="start" font-family="Liberation Sans, Arial, sans-serif" font-weight="bold" stroke="#000" stroke-width="0.3" fill="#000" textLength="24.3" lengthAdjust="spacingAndGlyphs" >Raw</text>
<line x1="705.00" y1="33.00" x2="735.00" y2="33.00" stroke="#f00000" stroke-width="2.0" />
<text x="737.30" y="36.90" font-size="11.7" text-anchor="start" font-family="Liberation Sans, Arial, sans-serif" font-weight="bold" stroke="#000" stroke-width="0.3" fill="#000" textLength="59.8" lengthAdjust="spacingAndGlyphs" >Peak Sum</text>
</g>
<g id="pd">
<path d="M152.0,391.3a1.9,1.9 0 1,0 3.8,0a1.9,1.9 0 1,0 -3.8,0M154.3,391.5a1.9,1.9 0 1,0 3.8,0a1.9,1.9 0 1,0 -3.8,0M156.6,391.9a1.9,1.9 0 1,0 3.8,0a1.9,1.9 0 1,0 -3.8,0M158.8,391.9a1.9,1.9 0 1,0 3.8,0a1.9,1.9 0 1,0 -3.8,0M161.1,390.4a1.9,1.9 0 1,0 3.8,0a1.9,1.9 0 1,0 -3.8,0M163.4,391.2a1.9,1.9 0 1,0 3.8,0a1.9,1.9 0 1,0 -3.8,0M165.6,391.5a1.9,1.9 0 1,0 3.8,0a1.9,1.9 0 1,0 -3.8,0M167.9,390.8a1.9,1.9 0 1,0 3.8,0a1.9,1.9 0 1,0 -3.8,0M170.2,391.4a1.9,1.9 0 1,0 3.8,0a1.9,1.9 0 1,0 -3.8,0M172.5,391.7a1.9,1.9 0 1,0 3.8,0a1.9,1.9 0 1,0 -3.8,0M174.7,391.1a1.9,1.9 0 1,0 3.8,0a1.9,1.9 0 1,0 -3.8,0M177.0,390.3a1.9,1.9 0 1,0 3.8,0a1.9,1.9 0 1,0 -3.8,0M179.3,391.9a1.9,1.9 0 1,0 3.8,0a1.9,1.9 0 1,0 -3.8,0M181.5,391.1a1.9,1.9 0 1,0 3.8,0a1.9,1.9 0 1,0 -3.8,0M183.8,390.0a1.9,1.9 0 1,0 3.8,0a1.9,1.9 0 1,0 -3.8,0M186.1,389.1a1.9,1.9 0 1,0 3.8,0a1.9,1.9 0 1,0 -3.8,0M188.4,385.9a1.9,1.9 0 1,0 3.8,0a1.9,1.9 0 1,0 -3.8,0M190.6,384.3a1.9,1.9 0 1,0 3.8,0a1.9,1.9 0 1,0 -3.8,0M192.9,380.2a1.9,1.9 0 1,0 3.8,0a1.9,1.9 0 1,0 -3.8,0M195.2,376.0a1.9,1.9 0 1,0 3.8,0a1.9,1.9 0 1,0 -3.8,0M197.5,368.5a1.9,1.9 0 1,0 3.8,0a1.9,1.9 0 1,0 -3.8,0M199.7,359.8a1.9,1.9 0 1,0 3.8,0a1.9,1.9 0 1,0 -3.8,0M202.0,351.9a1.9,1.9 0 1,0 3.8,0a1.9,1.9 0 1,0 -3.8,0M204.3,342.3a1.9,1.9 0 1,0 3.8,0a1.9,1.9 0 1,0 -3.8,0M206.5,333.4a1.9,1.9 0 1,0 3.8,0a1.9,1.9 0 1,0 -3.8,0M208.8,327.2a1.9,1.9 0 1,0 3.8,0a1.9,1.9 0 1,0 -3.8,0M211.1,325.3a1.9,1.9 0 1,0 3.8,0a1.9,1.9 0 1,0 -3.8,0M213.4,322.9a1.9,1.9 0 1,0 3.8,0a1.9,1.9 0 1,0 -3.8,0M215.6,324.6a1.9,1.9 0 1,0 3.8,0a1.9,1.9 0 1,0 -3.8,0M217.9,328.4a1.9,1.9 0 1,0 3.8,0a1.9,1.9 0 1,0 -3.8,0M220.2,333.0a1.9,1.9 0 1,0 3.8,0a1.9,1.9 0 1,0 -3.8,0M222.4,339.4a1.9,1.9 0 1,0 3.8,0a1.9,1.9 0 1,0 -3.8,0M224.7,345.6a1.9,1.9 0 1,0 3.8,0a1.9,1.9 0 1,0 -3.8,0M227.0,351.6a1.9,1.9 0 1,0 3.8,0a1.9,1.9 0 1,0 -3.8,0M229.3,355.6a1.9,1.9 0 1,0 3.8,0a1.9,1.9 0 1,0 -3.8,0M231.5,360.6a1.9,1.9 0 1,0 3.8,0a1.9,1.9 0 1,0 -3.8,0M233.8,364.2a1.9,1.9 0 1,0 3.8,0a1.9,1.9 0 1,0 -3.8,0M236.1,368.8a1.9,1.9 0 1,0 3.8,0a1.9,1.9 0 1,0 -3.8,0M238.3,370.9a1.9,1.9 0 1,0 3.8,0a1.9,1.9 0 1,0 -3.8,0M240.6,371.4a1.9,1.9 0 1,0 3.8,0a1.9,1.9 0 1,0 -3.8,0M242.9,374.9a1.9,1.9 0 1,0 3.8,0a1.9,1.9 0 1,0 -3.8,0M245.2,377.0a1.9,1.9 0 1,0 3.8,0a1.9,1.9 0 1,0 -3.8,0M247.4,377.9a1.9,1.9 0 1,0 3.8,0a1.9,1.9 0 1,0 -3.8,0M249.7,379.8a1.9,1.9 0 1,0 3.8,0a1.9,1.9 0 1,0 -3.8,0M252.0,382.2a1.9,1.9 0 1,0 3.8,0a1.9,1.9 0 1,0 -3.8,0M254.3,381.8a1.9,1.9 0 1,0 3.8,0a1.9,1.9 0 1,0 -3.8,0M256.5,384.8a1.9,1.9 0 1,0 3.8,0a1.9,1.9 0 1,0 -3.8,0M258.8,386.6a1.9,1.9 0 1,0 3.8,0a1.9,1.9 0 1,0 -3.8,0M261.1,388.3a1.9,1.9 0 1,0 3.8,0a1.9,1.9 0 1,0 -3.8,0M263.3,388.3a1.9,1.9 0 1,0 3.8,0a1.9,1.9 0 1,0 -3.8,0M265.6,388.1a1.9,1.9 0 1,0 3.8,0a1.9,1.9 0 1,0 -3.8,0M267.9,390.0a1.9,1.9 0 1,0 3.8,0a1.9,1.9 0 1,0 -3.8,0M270.2,389.5a1.9,1.9 0 1,0 3.8,0a1.9,1.9 0 1,0 -3.8,0M272.4,390.5a1.9,1.9 0 1,0 3.8,0a1.9,1.9 0 1,0 -3.8,0M274.7,391.4a1.9,1.9 0 1,0 3.8,0a1.9,1.9 0 1,0 -3.8,0M277.0,390.4a1.9,1.9 0 1,0 3.8,0a1.9,1.9 0 1,0 -3.8,0M279.2,392.0a1.9,1.9 0 1,0 3.8,0a1.9,1.9 0 1,0 -3.8,0M281.5,391.6a1.9,1.9 0 1,0 3.8,0a1.9,1.9 0 1,0 -3.8,0M283.8,391.5a1.9,1.9 0 1,0 3.8,0a1.9,1.9 0 1,0 -3.8,0M286.1,391.4a1.9,1.9 0 1,0 3.8,0a1.9,1.9 0 1,0 -3.8,0M288.3,390.9a1.9,1.9 0 1,0 3.8,0a1.9,1.9 0 1,0 -3.8,0M290.6,391.5a1.9,1.9 0 1,0 3.8,0a1.9,1.9 0 1,0 -3.8,0M292.9,391.5a1.9,1.9 0 1,0 3.8,0a1.9,1.9 0 1,0 -3.8,0M295.1,390.9a1.9,1.9 0 1,0 3.8,0a1.9,1.9 0 1,0 -3.8,0M297.4,391.2a1.9,1.9 0 1,0 3.8,0a1.9,1.9 0 1,0 -3.8,0M299.7,392.6a1.9,1.9 0 1,0 3.8,0a1.9,1.9 0 1,0 -3.8,0M302.0,391.2a1.9,1.9 0 1,0 3.8,0a1.9,1.9 0 1,0 -3.8,0M304.2,391.9a1.9,1.9 0 1,0 3.8,0a1.9,1.9 0 1,0 -3.8,0M306.5,391.4a1.9,1.9 0 1,0 3.8,0a1.9,1.9 0 1,0 -3.8,0M308.8,391.6a1.9,1.9 0 1,0 3.8,0a1.9,1.9 0 1,0 -3.8,0M311.0,391.5a1.9,1.9 0 1,0 3.8,0a1.9,1.9 0 1,0 -3.8,0M313.3,390.5a1.9,1.9 0 1,0 3.8,0a1.9,1.9 0 1,0 -3.8,0" fill="#fff" stroke="#444" stroke-width="0.7"/>
<path d="M152.9,391.4 L153.7,391.4 L154.5,391.4 L155.3,391.4 L156.2,391.4 L157.0,391.4 L157.8,391.4 L158.6,391.4 L159.4,391.4 L160.2,391.4 L161.1,391.4 L161.9,391.4 L162.7,391.4 L163.5,391.4 L164.3,391.4 L165.1,391.4 L166.0,391.4 L166.8,391.4 L167.6,391.4 L168.4,391.4 L169.2,391.4 L170.0,391.4 L170.8,391.4 L171.7,391.4 L172.5,391.3 L173.3,391.3 L174.1,391.3 L174.9,391.3 L175.7,391.3 L176.6,391.3 L177.4,391.2 L178.2,391.2 L179.0,391.1 L179.8,391.1 L180.6,391.0 L181.4,390.9 L182.3,390.8 L183.1,390.6 L183.9,390.4 L184.7,390.2 L185.5,389.9 L186.3,389.6 L187.2,389.2 L188.0,388.7 L188.8,388.1 L189.6,387.5 L190.4,386.7 L191.2,385.8 L192.1,384.8 L192.9,383.6 L193.7,382.3 L194.5,380.8 L195.3,379.1 L196.1,377.2 L196.9,375.1 L197.8,372.9 L198.6,370.4 L199.4,367.8 L200.2,365.0 L201.0,362.1 L201.8,359.0 L202.7,355.8 L203.5,352.6 L204.3,349.3 L205.1,346.0 L205.9,342.8 L206.7,339.7 L207.6,336.7 L208.4,333.9 L209.2,331.4 L210.0,329.1 L210.8,327.2 L211.6,325.6 L212.4,324.4 L213.3,323.6 L214.1,323.2 L214.9,323.1 L215.7,323.4 L216.5,323.9 L217.3,324.7 L218.2,325.7 L219.0,327.0 L219.8,328.5 L220.6,330.1 L221.4,331.9 L222.2,333.9 L223.0,335.9 L223.9,338.1 L224.7,340.3 L225.5,342.5 L226.3,344.7 L227.1,346.9 L227.9,349.1 L228.8,351.2 L229.6,353.2 L230.4,355.2 L231.2,357.0 L232.0,358.8 L232.8,360.4 L233.7,361.9 L234.5,363.4 L235.3,364.7 L236.1,365.9 L236.9,367.0 L237.7,368.1 L238.5,369.0 L239.4,369.9 L240.2,370.7 L241.0,371.5 L241.8,372.2 L242.6,372.9 L243.4,373.6 L244.3,374.3 L245.1,374.9 L245.9,375.5 L246.7,376.1 L247.5,376.8 L248.3,377.4 L249.2,378.0 L250.0,378.6 L250.8,379.2 L251.6,379.8 L252.4,380.4 L253.2,381.0 L254.0,381.7 L254.9,382.3 L255.7,382.8 L256.5,383.4 L257.3,384.0 L258.1,384.5 L258.9,385.1 L259.8,385.6 L260.6,386.1 L261.4,386.5 L262.2,387.0 L263.0,387.4 L263.8,387.8 L264.6,388.1 L265.5,388.5 L266.3,388.8 L267.1,389.1 L267.9,389.3 L268.7,389.6 L269.5,389.8 L270.4,390.0 L271.2,390.2 L272.0,390.3 L272.8,390.5 L273.6,390.6 L274.4,390.7 L275.3,390.8 L276.1,390.9 L276.9,391.0 L277.7,391.0 L278.5,391.1 L279.3,391.1 L280.1,391.2 L281.0,391.2 L281.8,391.3 L282.6,391.3 L283.4,391.3 L284.2,391.3 L285.0,391.3 L285.9,391.3 L286.7,391.4 L287.5,391.4 L288.3,391.4 L289.1,391.4 L289.9,391.4 L290.7,391.4 L291.6,391.4 L292.4,391.4 L293.2,391.4 L294.0,391.4 L294.8,391.4 L295.6,391.4 L296.5,391.4 L297.3,391.4 L298.1,391.4 L298.9,391.4 L299.7,391.4 L300.5,391.4" stroke="#f00000" stroke-width="1.2" fill="none" stroke-linejoin="round" />
<path d="M173.3,391.9 L174.1,391.9 L174.9,391.9 L175.7,391.9 L176.6,391.8 L177.4,391.8 L178.2,391.8 L179.0,391.8 L179.8,391.7 L180.6,391.7 L181.4,391.6 L182.3,391.5 L183.1,391.4 L183.9,391.3 L184.7,391.1 L185.5,390.9 L186.3,390.6 L187.2,390.3 L188.0,389.9 L188.8,389.4 L189.6,388.8 L190.4,388.2 L191.2,387.4 L192.1,386.4 L192.9,385.4 L193.7,384.1 L194.5,382.7 L195.3,381.1 L196.1,379.4 L196.9,377.4 L197.8,375.3 L198.6,372.9 L199.4,370.4 L200.2,367.7 L201.0,364.8 L201.8,361.8 L202.7,358.7 L203.5,355.5 L204.3,352.3 L205.1,349.0 L205.9,345.9 L206.7,342.8 L207.6,339.8 L208.4,337.1 L209.2,334.6 L210.0,332.4 L210.8,330.5 L211.6,329.0 L212.4,327.9 L213.3,327.2 L214.1,326.9 L214.9,327.0 L215.7,327.4 L216.5,328.2 L217.3,329.2 L218.2,330.5 L219.0,332.0 L219.8,333.8 L220.6,335.8 L221.4,337.9 L222.2,340.3 L223.0,342.7 L223.9,345.3 L224.7,348.0 L225.5,350.6 L226.3,353.4 L227.1,356.1 L227.9,358.7 L228.8,361.3 L229.6,363.9 L230.4,366.3 L231.2,368.7 L232.0,370.9 L232.8,373.0 L233.7,375.0 L234.5,376.8 L235.3,378.5 L236.1,380.1 L236.9,381.5 L237.7,382.8 L238.5,384.0 L239.4,385.1 L240.2,386.0 L241.0,386.8 L241.8,387.6 L242.6,388.2 L243.4,388.8 L244.3,389.3 L245.1,389.7 L245.9,390.1 L246.7,390.4 L247.5,390.6 L248.3,390.9 L249.2,391.1 L250.0,391.2 L250.8,391.3 L251.6,391.4 L252.4,391.5 L253.2,391.6 L254.0,391.7 L254.9,391.7 L255.7,391.8 L256.5,391.8 L257.3,391.8 L258.1,391.8" stroke="#000" stroke-width="1.3" fill="none" stroke-linejoin="round" />
<path d="M209.2,391.2 L210.0,391.1 L210.8,391.0 L211.6,390.8 L212.4,390.7 L213.3,390.5 L214.1,390.3 L214.9,390.1 L215.7,389.8 L216.5,389.6 L217.3,389.3 L218.2,389.0 L219.0,388.6 L219.8,388.3 L220.6,387.9 L221.4,387.5 L222.2,387.0 L223.0,386.6 L223.9,386.1 L224.7,385.6 L225.5,385.1 L226.3,384.6 L227.1,384.0 L227.9,383.5 L228.8,382.9 L229.6,382.4 L230.4,381.8 L231.2,381.3 L232.0,380.8 L232.8,380.3 L233.7,379.8 L234.5,379.4 L235.3,379.0 L236.1,378.6 L236.9,378.3 L237.7,378.0 L238.5,377.7 L239.4,377.5 L240.2,377.4 L241.0,377.3 L241.8,377.3 L242.6,377.3 L243.4,377.4 L244.3,377.6 L245.1,377.8 L245.9,378.0 L246.7,378.3 L247.5,378.6 L248.3,379.0 L249.2,379.4 L250.0,379.9 L250.8,380.3 L251.6,380.8 L252.4,381.4 L253.2,381.9 L254.0,382.4 L254.9,383.0 L255.7,383.5 L256.5,384.1 L257.3,384.6 L258.1,385.1 L258.9,385.6 L259.8,386.1 L260.6,386.6 L261.4,387.1 L262.2,387.5 L263.0,387.9 L263.8,388.3 L264.6,388.7 L265.5,389.0 L266.3,389.3 L267.1,389.6 L267.9,389.9 L268.7,390.1 L269.5,390.3 L270.4,390.5 L271.2,390.7 L272.0,390.8 L272.8,391.0 L273.6,391.1 L274.4,391.2 L275.3,391.3 L276.1,391.4 Z" stroke="#000" stroke-width="1.0" fill="#ff00ff" stroke-linejoin="round" />
<line x1="152.90" y1="391.90" x2="315.22" y2="391.90" stroke="#000" stroke-width="1.5" />
<text x="322.60" y="392.20" font-size="12" text-anchor="start" font-family="Liberation Sans, Arial, sans-serif" font-weight="bold" stroke="#000" stroke-width="0.3" fill="#000"  >1.2AZO</text>
<path d="M152.0,365.6a1.9,1.9 0 1,0 3.8,0a1.9,1.9 0 1,0 -3.8,0M154.3,365.2a1.9,1.9 0 1,0 3.8,0a1.9,1.9 0 1,0 -3.8,0M156.6,365.7a1.9,1.9 0 1,0 3.8,0a1.9,1.9 0 1,0 -3.8,0M158.8,364.9a1.9,1.9 0 1,0 3.8,0a1.9,1.9 0 1,0 -3.8,0M161.1,366.0a1.9,1.9 0 1,0 3.8,0a1.9,1.9 0 1,0 -3.8,0M163.4,365.1a1.9,1.9 0 1,0 3.8,0a1.9,1.9 0 1,0 -3.8,0M165.6,364.7a1.9,1.9 0 1,0 3.8,0a1.9,1.9 0 1,0 -3.8,0M167.9,366.0a1.9,1.9 0 1,0 3.8,0a1.9,1.9 0 1,0 -3.8,0M170.2,364.7a1.9,1.9 0 1,0 3.8,0a1.9,1.9 0 1,0 -3.8,0M172.5,366.1a1.9,1.9 0 1,0 3.8,0a1.9,1.9 0 1,0 -3.8,0M174.7,365.8a1.9,1.9 0 1,0 3.8,0a1.9,1.9 0 1,0 -3.8,0M177.0,364.5a1.9,1.9 0 1,0 3.8,0a1.9,1.9 0 1,0 -3.8,0M179.3,364.8a1.9,1.9 0 1,0 3.8,0a1.9,1.9 0 1,0 -3.8,0M181.5,362.6a1.9,1.9 0 1,0 3.8,0a1.9,1.9 0 1,0 -3.8,0M183.8,362.7a1.9,1.9 0 1,0 3.8,0a1.9,1.9 0 1,0 -3.8,0M186.1,360.5a1.9,1.9 0 1,0 3.8,0a1.9,1.9 0 1,0 -3.8,0M188.4,358.3a1.9,1.9 0 1,0 3.8,0a1.9,1.9 0 1,0 -3.8,0M190.6,354.6a1.9,1.9 0 1,0 3.8,0a1.9,1.9 0 1,0 -3.8,0M192.9,350.5a1.9,1.9 0 1,0 3.8,0a1.9,1.9 0 1,0 -3.8,0M195.2,345.0a1.9,1.9 0 1,0 3.8,0a1.9,1.9 0 1,0 -3.8,0M197.5,336.8a1.9,1.9 0 1,0 3.8,0a1.9,1.9 0 1,0 -3.8,0M199.7,328.6a1.9,1.9 0 1,0 3.8,0a1.9,1.9 0 1,0 -3.8,0M202.0,320.3a1.9,1.9 0 1,0 3.8,0a1.9,1.9 0 1,0 -3.8,0M204.3,311.2a1.9,1.9 0 1,0 3.8,0a1.9,1.9 0 1,0 -3.8,0M206.5,302.1a1.9,1.9 0 1,0 3.8,0a1.9,1.9 0 1,0 -3.8,0M208.8,295.9a1.9,1.9 0 1,0 3.8,0a1.9,1.9 0 1,0 -3.8,0M211.1,293.3a1.9,1.9 0 1,0 3.8,0a1.9,1.9 0 1,0 -3.8,0M213.4,290.7a1.9,1.9 0 1,0 3.8,0a1.9,1.9 0 1,0 -3.8,0M215.6,292.3a1.9,1.9 0 1,0 3.8,0a1.9,1.9 0 1,0 -3.8,0M217.9,298.4a1.9,1.9 0 1,0 3.8,0a1.9,1.9 0 1,0 -3.8,0M220.2,303.8a1.9,1.9 0 1,0 3.8,0a1.9,1.9 0 1,0 -3.8,0M222.4,310.4a1.9,1.9 0 1,0 3.8,0a1.9,1.9 0 1,0 -3.8,0M224.7,315.6a1.9,1.9 0 1,0 3.8,0a1.9,1.9 0 1,0 -3.8,0M227.0,323.4a1.9,1.9 0 1,0 3.8,0a1.9,1.9 0 1,0 -3.8,0M229.3,329.1a1.9,1.9 0 1,0 3.8,0a1.9,1.9 0 1,0 -3.8,0M231.5,334.2a1.9,1.9 0 1,0 3.8,0a1.9,1.9 0 1,0 -3.8,0M233.8,338.8a1.9,1.9 0 1,0 3.8,0a1.9,1.9 0 1,0 -3.8,0M236.1,342.4a1.9,1.9 0 1,0 3.8,0a1.9,1.9 0 1,0 -3.8,0M238.3,346.0a1.9,1.9 0 1,0 3.8,0a1.9,1.9 0 1,0 -3.8,0M240.6,345.6a1.9,1.9 0 1,0 3.8,0a1.9,1.9 0 1,0 -3.8,0M242.9,348.0a1.9,1.9 0 1,0 3.8,0a1.9,1.9 0 1,0 -3.8,0M245.2,349.7a1.9,1.9 0 1,0 3.8,0a1.9,1.9 0 1,0 -3.8,0M247.4,353.1a1.9,1.9 0 1,0 3.8,0a1.9,1.9 0 1,0 -3.8,0M249.7,353.5a1.9,1.9 0 1,0 3.8,0a1.9,1.9 0 1,0 -3.8,0M252.0,355.9a1.9,1.9 0 1,0 3.8,0a1.9,1.9 0 1,0 -3.8,0M254.3,357.6a1.9,1.9 0 1,0 3.8,0a1.9,1.9 0 1,0 -3.8,0M256.5,357.5a1.9,1.9 0 1,0 3.8,0a1.9,1.9 0 1,0 -3.8,0M258.8,361.0a1.9,1.9 0 1,0 3.8,0a1.9,1.9 0 1,0 -3.8,0M261.1,362.1a1.9,1.9 0 1,0 3.8,0a1.9,1.9 0 1,0 -3.8,0M263.3,362.3a1.9,1.9 0 1,0 3.8,0a1.9,1.9 0 1,0 -3.8,0M265.6,363.1a1.9,1.9 0 1,0 3.8,0a1.9,1.9 0 1,0 -3.8,0M267.9,363.8a1.9,1.9 0 1,0 3.8,0a1.9,1.9 0 1,0 -3.8,0M270.2,364.8a1.9,1.9 0 1,0 3.8,0a1.9,1.9 0 1,0 -3.8,0M272.4,365.0a1.9,1.9 0 1,0 3.8,0a1.9,1.9 0 1,0 -3.8,0M274.7,365.6a1.9,1.9 0 1,0 3.8,0a1.9,1.9 0 1,0 -3.8,0M277.0,364.6a1.9,1.9 0 1,0 3.8,0a1.9,1.9 0 1,0 -3.8,0M279.2,364.9a1.9,1.9 0 1,0 3.8,0a1.9,1.9 0 1,0 -3.8,0M281.5,365.5a1.9,1.9 0 1,0 3.8,0a1.9,1.9 0 1,0 -3.8,0M283.8,365.6a1.9,1.9 0 1,0 3.8,0a1.9,1.9 0 1,0 -3.8,0M286.1,365.1a1.9,1.9 0 1,0 3.8,0a1.9,1.9 0 1,0 -3.8,0M288.3,366.4a1.9,1.9 0 1,0 3.8,0a1.9,1.9 0 1,0 -3.8,0M290.6,365.8a1.9,1.9 0 1,0 3.8,0a1.9,1.9 0 1,0 -3.8,0M292.9,366.1a1.9,1.9 0 1,0 3.8,0a1.9,1.9 0 1,0 -3.8,0M295.1,365.9a1.9,1.9 0 1,0 3.8,0a1.9,1.9 0 1,0 -3.8,0M297.4,366.6a1.9,1.9 0 1,0 3.8,0a1.9,1.9 0 1,0 -3.8,0M299.7,365.4a1.9,1.9 0 1,0 3.8,0a1.9,1.9 0 1,0 -3.8,0M302.0,365.5a1.9,1.9 0 1,0 3.8,0a1.9,1.9 0 1,0 -3.8,0M304.2,366.1a1.9,1.9 0 1,0 3.8,0a1.9,1.9 0 1,0 -3.8,0M306.5,366.0a1.9,1.9 0 1,0 3.8,0a1.9,1.9 0 1,0 -3.8,0M308.8,364.8a1.9,1.9 0 1,0 3.8,0a1.9,1.9 0 1,0 -3.8,0M311.0,365.3a1.9,1.9 0 1,0 3.8,0a1.9,1.9 0 1,0 -3.8,0M313.3,365.9a1.9,1.9 0 1,0 3.8,0a1.9,1.9 0 1,0 -3.8,0" fill="#fff" stroke="#444" stroke-width="0.7"/>
<path d="M152.9,365.6 L153.7,365.6 L154.5,365.6 L155.3,365.6 L156.2,365.6 L157.0,365.6 L157.8,365.6 L158.6,365.6 L159.4,365.6 L160.2,365.6 L161.1,365.6 L161.9,365.6 L162.7,365.6 L163.5,365.6 L164.3,365.6 L165.1,365.6 L166.0,365.6 L166.8,365.6 L167.6,365.5 L168.4,365.5 L169.2,365.5 L170.0,365.5 L170.8,365.5 L171.7,365.4 L172.5,365.4 L173.3,365.4 L174.1,365.3 L174.9,365.2 L175.7,365.2 L176.6,365.1 L177.4,364.9 L178.2,364.8 L179.0,364.7 L179.8,364.5 L180.6,364.3 L181.4,364.0 L182.3,363.7 L183.1,363.4 L183.9,363.0 L184.7,362.6 L185.5,362.2 L186.3,361.6 L187.2,361.0 L188.0,360.3 L188.8,359.6 L189.6,358.7 L190.4,357.7 L191.2,356.6 L192.1,355.4 L192.9,354.0 L193.7,352.5 L194.5,350.8 L195.3,349.0 L196.1,347.0 L196.9,344.8 L197.8,342.4 L198.6,339.9 L199.4,337.1 L200.2,334.3 L201.0,331.2 L201.8,328.1 L202.7,324.8 L203.5,321.5 L204.3,318.1 L205.1,314.8 L205.9,311.5 L206.7,308.3 L207.6,305.2 L208.4,302.4 L209.2,299.8 L210.0,297.5 L210.8,295.5 L211.6,293.9 L212.4,292.7 L213.3,292.0 L214.1,291.6 L214.9,291.7 L215.7,292.0 L216.5,292.7 L217.3,293.6 L218.2,294.8 L219.0,296.2 L219.8,297.8 L220.6,299.7 L221.4,301.7 L222.2,303.8 L223.0,306.1 L223.9,308.5 L224.7,310.9 L225.5,313.3 L226.3,315.8 L227.1,318.2 L227.9,320.6 L228.8,322.9 L229.6,325.1 L230.4,327.3 L231.2,329.3 L232.0,331.2 L232.8,333.1 L233.7,334.7 L234.5,336.3 L235.3,337.8 L236.1,339.1 L236.9,340.4 L237.7,341.5 L238.5,342.6 L239.4,343.6 L240.2,344.5 L241.0,345.3 L241.8,346.1 L242.6,346.8 L243.4,347.6 L244.3,348.3 L245.1,348.9 L245.9,349.6 L246.7,350.2 L247.5,350.8 L248.3,351.5 L249.2,352.1 L250.0,352.7 L250.8,353.4 L251.6,354.0 L252.4,354.6 L253.2,355.2 L254.0,355.8 L254.9,356.4 L255.7,357.0 L256.5,357.6 L257.3,358.2 L258.1,358.7 L258.9,359.3 L259.8,359.8 L260.6,360.3 L261.4,360.7 L262.2,361.2 L263.0,361.6 L263.8,362.0 L264.6,362.3 L265.5,362.7 L266.3,363.0 L267.1,363.3 L267.9,363.5 L268.7,363.8 L269.5,364.0 L270.4,364.2 L271.2,364.4 L272.0,364.5 L272.8,364.7 L273.6,364.8 L274.4,364.9 L275.3,365.0 L276.1,365.1 L276.9,365.2 L277.7,365.2 L278.5,365.3 L279.3,365.3 L280.1,365.4 L281.0,365.4 L281.8,365.5 L282.6,365.5 L283.4,365.5 L284.2,365.5 L285.0,365.5 L285.9,365.5 L286.7,365.6 L287.5,365.6 L288.3,365.6 L289.1,365.6 L289.9,365.6 L290.7,365.6 L291.6,365.6 L292.4,365.6 L293.2,365.6 L294.0,365.6 L294.8,365.6 L295.6,365.6 L296.5,365.6 L297.3,365.6 L298.1,365.6 L298.9,365.6 L299.7,365.6 L300.5,365.6" stroke="#f00000" stroke-width="1.2" fill="none" stroke-linejoin="round" />
<path d="M173.3,366.1 L174.1,366.1 L174.9,366.1 L175.7,366.1 L176.6,366.0 L177.4,366.0 L178.2,366.0 L179.0,366.0 L179.8,365.9 L180.6,365.9 L181.4,365.8 L182.3,365.7 L183.1,365.6 L183.9,365.4 L184.7,365.2 L185.5,365.0 L186.3,364.7 L187.2,364.3 L188.0,363.9 L188.8,363.4 L189.6,362.8 L190.4,362.1 L191.2,361.2 L192.1,360.2 L192.9,359.0 L193.7,357.7 L194.5,356.2 L195.3,354.5 L196.1,352.6 L196.9,350.4 L197.8,348.1 L198.6,345.6 L199.4,342.8 L200.2,339.9 L201.0,336.8 L201.8,333.5 L202.7,330.2 L203.5,326.7 L204.3,323.2 L205.1,319.7 L205.9,316.3 L206.7,313.0 L207.6,309.8 L208.4,306.8 L209.2,304.1 L210.0,301.7 L210.8,299.7 L211.6,298.1 L212.4,296.9 L213.3,296.1 L214.1,295.8 L214.9,295.9 L215.7,296.4 L216.5,297.2 L217.3,298.3 L218.2,299.6 L219.0,301.3 L219.8,303.2 L220.6,305.4 L221.4,307.7 L222.2,310.3 L223.0,312.9 L223.9,315.7 L224.7,318.6 L225.5,321.5 L226.3,324.4 L227.1,327.3 L227.9,330.2 L228.8,333.0 L229.6,335.8 L230.4,338.4 L231.2,341.0 L232.0,343.4 L232.8,345.7 L233.7,347.8 L234.5,349.8 L235.3,351.6 L236.1,353.3 L236.9,354.9 L237.7,356.3 L238.5,357.6 L239.4,358.7 L240.2,359.7 L241.0,360.6 L241.8,361.4 L242.6,362.1 L243.4,362.7 L244.3,363.3 L245.1,363.7 L245.9,364.1 L246.7,364.5 L247.5,364.7 L248.3,365.0 L249.2,365.2 L250.0,365.4 L250.8,365.5 L251.6,365.6 L252.4,365.7 L253.2,365.8 L254.0,365.9 L254.9,365.9 L255.7,365.9 L256.5,366.0 L257.3,366.0 L258.1,366.0" stroke="#000" stroke-width="1.3" fill="none" stroke-linejoin="round" />
<path d="M169.2,366.0 L170.0,366.0 L170.8,366.0 L171.7,366.0 L172.5,366.0 L173.3,365.9 L174.1,365.9 L174.9,365.8 L175.7,365.8 L176.6,365.7 L177.4,365.6 L178.2,365.5 L179.0,365.4 L179.8,365.3 L180.6,365.2 L181.4,365.1 L182.3,364.9 L183.1,364.8 L183.9,364.6 L184.7,364.4 L185.5,364.2 L186.3,364.0 L187.2,363.9 L188.0,363.7 L188.8,363.5 L189.6,363.3 L190.4,363.2 L191.2,363.1 L192.1,362.9 L192.9,362.8 L193.7,362.8 L194.5,362.7 L195.3,362.7 L196.1,362.7 L196.9,362.7 L197.8,362.8 L198.6,362.9 L199.4,363.0 L200.2,363.1 L201.0,363.3 L201.8,363.4 L202.7,363.6 L203.5,363.8 L204.3,364.0 L205.1,364.1 L205.9,364.3 L206.7,364.5 L207.6,364.7 L208.4,364.8 L209.2,365.0 L210.0,365.1 L210.8,365.3 L211.6,365.4 L212.4,365.5 L213.3,365.6 L214.1,365.7 L214.9,365.7 L215.7,365.8 L216.5,365.9 L217.3,365.9 L218.2,365.9 L219.0,366.0 L219.8,366.0 L220.6,366.0 L221.4,366.0 Z" stroke="#000" stroke-width="0.8" fill="#868600" stroke-linejoin="round" />
<path d="M209.2,365.4 L210.0,365.3 L210.8,365.2 L211.6,365.0 L212.4,364.9 L213.3,364.7 L214.1,364.5 L214.9,364.3 L215.7,364.0 L216.5,363.8 L217.3,363.5 L218.2,363.2 L219.0,362.8 L219.8,362.5 L220.6,362.1 L221.4,361.7 L222.2,361.2 L223.0,360.8 L223.9,360.3 L224.7,359.8 L225.5,359.3 L226.3,358.8 L227.1,358.2 L227.9,357.7 L228.8,357.1 L229.6,356.6 L230.4,356.0 L231.2,355.5 L232.0,355.0 L232.8,354.5 L233.7,354.0 L234.5,353.6 L235.3,353.2 L236.1,352.8 L236.9,352.5 L237.7,352.2 L238.5,351.9 L239.4,351.7 L240.2,351.6 L241.0,351.5 L241.8,351.5 L242.6,351.5 L243.4,351.6 L244.3,351.8 L245.1,352.0 L245.9,352.2 L246.7,352.5 L247.5,352.8 L248.3,353.2 L249.2,353.6 L250.0,354.1 L250.8,354.5 L251.6,355.0 L252.4,355.6 L253.2,356.1 L254.0,356.6 L254.9,357.2 L255.7,357.7 L256.5,358.3 L257.3,358.8 L258.1,359.3 L258.9,359.8 L259.8,360.3 L260.6,360.8 L261.4,361.3 L262.2,361.7 L263.0,362.1 L263.8,362.5 L264.6,362.9 L265.5,363.2 L266.3,363.5 L267.1,363.8 L267.9,364.1 L268.7,364.3 L269.5,364.5 L270.4,364.7 L271.2,364.9 L272.0,365.0 L272.8,365.2 L273.6,365.3 L274.4,365.4 L275.3,365.5 L276.1,365.6 Z" stroke="#000" stroke-width="1.0" fill="#ff00ff" stroke-linejoin="round" />
<line x1="152.90" y1="366.10" x2="315.22" y2="366.10" stroke="#000" stroke-width="1.5" />
<text x="322.60" y="366.70" font-size="12" text-anchor="start" font-family="Liberation Sans, Arial, sans-serif" font-weight="bold" stroke="#000" stroke-width="0.3" fill="#000"  >2.4AZO</text>
<path d="M152.0,336.3a1.9,1.9 0 1,0 3.8,0a1.9,1.9 0 1,0 -3.8,0M154.3,335.9a1.9,1.9 0 1,0 3.8,0a1.9,1.9 0 1,0 -3.8,0M156.6,335.5a1.9,1.9 0 1,0 3.8,0a1.9,1.9 0 1,0 -3.8,0M158.8,336.0a1.9,1.9 0 1,0 3.8,0a1.9,1.9 0 1,0 -3.8,0M161.1,336.6a1.9,1.9 0 1,0 3.8,0a1.9,1.9 0 1,0 -3.8,0M163.4,336.6a1.9,1.9 0 1,0 3.8,0a1.9,1.9 0 1,0 -3.8,0M165.6,335.9a1.9,1.9 0 1,0 3.8,0a1.9,1.9 0 1,0 -3.8,0M167.9,335.5a1.9,1.9 0 1,0 3.8,0a1.9,1.9 0 1,0 -3.8,0M170.2,335.7a1.9,1.9 0 1,0 3.8,0a1.9,1.9 0 1,0 -3.8,0M172.5,334.7a1.9,1.9 0 1,0 3.8,0a1.9,1.9 0 1,0 -3.8,0M174.7,336.2a1.9,1.9 0 1,0 3.8,0a1.9,1.9 0 1,0 -3.8,0M177.0,335.8a1.9,1.9 0 1,0 3.8,0a1.9,1.9 0 1,0 -3.8,0M179.3,334.6a1.9,1.9 0 1,0 3.8,0a1.9,1.9 0 1,0 -3.8,0M181.5,334.1a1.9,1.9 0 1,0 3.8,0a1.9,1.9 0 1,0 -3.8,0M183.8,333.6a1.9,1.9 0 1,0 3.8,0a1.9,1.9 0 1,0 -3.8,0M186.1,331.1a1.9,1.9 0 1,0 3.8,0a1.9,1.9 0 1,0 -3.8,0M188.4,329.0a1.9,1.9 0 1,0 3.8,0a1.9,1.9 0 1,0 -3.8,0M190.6,326.5a1.9,1.9 0 1,0 3.8,0a1.9,1.9 0 1,0 -3.8,0M192.9,321.7a1.9,1.9 0 1,0 3.8,0a1.9,1.9 0 1,0 -3.8,0M195.2,317.3a1.9,1.9 0 1,0 3.8,0a1.9,1.9 0 1,0 -3.8,0M197.5,310.2a1.9,1.9 0 1,0 3.8,0a1.9,1.9 0 1,0 -3.8,0M199.7,304.0a1.9,1.9 0 1,0 3.8,0a1.9,1.9 0 1,0 -3.8,0M202.0,295.1a1.9,1.9 0 1,0 3.8,0a1.9,1.9 0 1,0 -3.8,0M204.3,287.6a1.9,1.9 0 1,0 3.8,0a1.9,1.9 0 1,0 -3.8,0M206.5,280.5a1.9,1.9 0 1,0 3.8,0a1.9,1.9 0 1,0 -3.8,0M208.8,274.0a1.9,1.9 0 1,0 3.8,0a1.9,1.9 0 1,0 -3.8,0M211.1,271.5a1.9,1.9 0 1,0 3.8,0a1.9,1.9 0 1,0 -3.8,0M213.4,271.6a1.9,1.9 0 1,0 3.8,0a1.9,1.9 0 1,0 -3.8,0M215.6,273.0a1.9,1.9 0 1,0 3.8,0a1.9,1.9 0 1,0 -3.8,0M217.9,276.2a1.9,1.9 0 1,0 3.8,0a1.9,1.9 0 1,0 -3.8,0M220.2,280.9a1.9,1.9 0 1,0 3.8,0a1.9,1.9 0 1,0 -3.8,0M222.4,286.5a1.9,1.9 0 1,0 3.8,0a1.9,1.9 0 1,0 -3.8,0M224.7,292.6a1.9,1.9 0 1,0 3.8,0a1.9,1.9 0 1,0 -3.8,0M227.0,298.1a1.9,1.9 0 1,0 3.8,0a1.9,1.9 0 1,0 -3.8,0M229.3,304.0a1.9,1.9 0 1,0 3.8,0a1.9,1.9 0 1,0 -3.8,0M231.5,307.8a1.9,1.9 0 1,0 3.8,0a1.9,1.9 0 1,0 -3.8,0M233.8,311.0a1.9,1.9 0 1,0 3.8,0a1.9,1.9 0 1,0 -3.8,0M236.1,312.9a1.9,1.9 0 1,0 3.8,0a1.9,1.9 0 1,0 -3.8,0M238.3,316.3a1.9,1.9 0 1,0 3.8,0a1.9,1.9 0 1,0 -3.8,0M240.6,318.6a1.9,1.9 0 1,0 3.8,0a1.9,1.9 0 1,0 -3.8,0M242.9,319.8a1.9,1.9 0 1,0 3.8,0a1.9,1.9 0 1,0 -3.8,0M245.2,322.6a1.9,1.9 0 1,0 3.8,0a1.9,1.9 0 1,0 -3.8,0M247.4,324.2a1.9,1.9 0 1,0 3.8,0a1.9,1.9 0 1,0 -3.8,0M249.7,325.5a1.9,1.9 0 1,0 3.8,0a1.9,1.9 0 1,0 -3.8,0M252.0,326.4a1.9,1.9 0 1,0 3.8,0a1.9,1.9 0 1,0 -3.8,0M254.3,329.4a1.9,1.9 0 1,0 3.8,0a1.9,1.9 0 1,0 -3.8,0M256.5,330.1a1.9,1.9 0 1,0 3.8,0a1.9,1.9 0 1,0 -3.8,0M258.8,330.0a1.9,1.9 0 1,0 3.8,0a1.9,1.9 0 1,0 -3.8,0M261.1,333.0a1.9,1.9 0 1,0 3.8,0a1.9,1.9 0 1,0 -3.8,0M263.3,332.4a1.9,1.9 0 1,0 3.8,0a1.9,1.9 0 1,0 -3.8,0M265.6,333.2a1.9,1.9 0 1,0 3.8,0a1.9,1.9 0 1,0 -3.8,0M267.9,335.2a1.9,1.9 0 1,0 3.8,0a1.9,1.9 0 1,0 -3.8,0M270.2,336.0a1.9,1.9 0 1,0 3.8,0a1.9,1.9 0 1,0 -3.8,0M272.4,335.5a1.9,1.9 0 1,0 3.8,0a1.9,1.9 0 1,0 -3.8,0M274.7,336.3a1.9,1.9 0 1,0 3.8,0a1.9,1.9 0 1,0 -3.8,0M277.0,336.5a1.9,1.9 0 1,0 3.8,0a1.9,1.9 0 1,0 -3.8,0M279.2,335.0a1.9,1.9 0 1,0 3.8,0a1.9,1.9 0 1,0 -3.8,0M281.5,336.2a1.9,1.9 0 1,0 3.8,0a1.9,1.9 0 1,0 -3.8,0M283.8,336.4a1.9,1.9 0 1,0 3.8,0a1.9,1.9 0 1,0 -3.8,0M286.1,335.5a1.9,1.9 0 1,0 3.8,0a1.9,1.9 0 1,0 -3.8,0M288.3,336.5a1.9,1.9 0 1,0 3.8,0a1.9,1.9 0 1,0 -3.8,0M290.6,335.9a1.9,1.9 0 1,0 3.8,0a1.9,1.9 0 1,0 -3.8,0M292.9,336.3a1.9,1.9 0 1,0 3.8,0a1.9,1.9 0 1,0 -3.8,0M295.1,336.1a1.9,1.9 0 1,0 3.8,0a1.9,1.9 0 1,0 -3.8,0M297.4,337.1a1.9,1.9 0 1,0 3.8,0a1.9,1.9 0 1,0 -3.8,0M299.7,336.2a1.9,1.9 0 1,0 3.8,0a1.9,1.9 0 1,0 -3.8,0M302.0,336.0a1.9,1.9 0 1,0 3.8,0a1.9,1.9 0 1,0 -3.8,0M304.2,335.2a1.9,1.9 0 1,0 3.8,0a1.9,1.9 0 1,0 -3.8,0M306.5,335.7a1.9,1.9 0 1,0 3.8,0a1.9,1.9 0 1,0 -3.8,0M308.8,337.2a1.9,1.9 0 1,0 3.8,0a1.9,1.9 0 1,0 -3.8,0M311.0,336.4a1.9,1.9 0 1,0 3.8,0a1.9,1.9 0 1,0 -3.8,0M313.3,336.7a1.9,1.9 0 1,0 3.8,0a1.9,1.9 0 1,0 -3.8,0" fill="#fff" stroke="#444" stroke-width="0.7"/>
<path d="M152.9,336.1 L153.7,336.1 L154.5,336.1 L155.3,336.1 L156.2,336.1 L157.0,336.1 L157.8,336.1 L158.6,336.1 L159.4,336.1 L160.2,336.1 L161.1,336.1 L161.9,336.1 L162.7,336.1 L163.5,336.1 L164.3,336.1 L165.1,336.1 L166.0,336.1 L166.8,336.1 L167.6,336.0 L168.4,336.0 L169.2,336.0 L170.0,336.0 L170.8,336.0 L171.7,335.9 L172.5,335.9 L173.3,335.9 L174.1,335.8 L174.9,335.7 L175.7,335.7 L176.6,335.6 L177.4,335.5 L178.2,335.3 L179.0,335.2 L179.8,335.0 L180.6,334.8 L181.4,334.6 L182.3,334.3 L183.1,334.0 L183.9,333.6 L184.7,333.2 L185.5,332.8 L186.3,332.3 L187.2,331.7 L188.0,331.1 L188.8,330.4 L189.6,329.6 L190.4,328.7 L191.2,327.7 L192.1,326.7 L192.9,325.4 L193.7,324.1 L194.5,322.6 L195.3,321.0 L196.1,319.2 L196.9,317.3 L197.8,315.3 L198.6,313.0 L199.4,310.7 L200.2,308.1 L201.0,305.5 L201.8,302.8 L202.7,300.0 L203.5,297.1 L204.3,294.2 L205.1,291.3 L205.9,288.4 L206.7,285.7 L207.6,283.0 L208.4,280.6 L209.2,278.3 L210.0,276.3 L210.8,274.6 L211.6,273.3 L212.4,272.2 L213.3,271.6 L214.1,271.3 L214.9,271.3 L215.7,271.6 L216.5,272.1 L217.3,272.9 L218.2,273.9 L219.0,275.2 L219.8,276.6 L220.6,278.1 L221.4,279.9 L222.2,281.7 L223.0,283.6 L223.9,285.6 L224.7,287.7 L225.5,289.8 L226.3,291.9 L227.1,293.9 L227.9,295.9 L228.8,297.9 L229.6,299.8 L230.4,301.6 L231.2,303.4 L232.0,305.0 L232.8,306.5 L233.7,307.9 L234.5,309.3 L235.3,310.5 L236.1,311.6 L236.9,312.7 L237.7,313.7 L238.5,314.6 L239.4,315.4 L240.2,316.2 L241.0,316.9 L241.8,317.6 L242.6,318.3 L243.4,318.9 L244.3,319.5 L245.1,320.1 L245.9,320.7 L246.7,321.3 L247.5,321.9 L248.3,322.5 L249.2,323.1 L250.0,323.7 L250.8,324.3 L251.6,324.9 L252.4,325.4 L253.2,326.0 L254.0,326.6 L254.9,327.2 L255.7,327.8 L256.5,328.3 L257.3,328.9 L258.1,329.4 L258.9,329.9 L259.8,330.4 L260.6,330.9 L261.4,331.4 L262.2,331.8 L263.0,332.2 L263.8,332.6 L264.6,332.9 L265.5,333.3 L266.3,333.6 L267.1,333.8 L267.9,334.1 L268.7,334.3 L269.5,334.5 L270.4,334.7 L271.2,334.9 L272.0,335.1 L272.8,335.2 L273.6,335.3 L274.4,335.4 L275.3,335.5 L276.1,335.6 L276.9,335.7 L277.7,335.8 L278.5,335.8 L279.3,335.9 L280.1,335.9 L281.0,335.9 L281.8,336.0 L282.6,336.0 L283.4,336.0 L284.2,336.0 L285.0,336.0 L285.9,336.0 L286.7,336.1 L287.5,336.1 L288.3,336.1 L289.1,336.1 L289.9,336.1 L290.7,336.1 L291.6,336.1 L292.4,336.1 L293.2,336.1 L294.0,336.1 L294.8,336.1 L295.6,336.1 L296.5,336.1 L297.3,336.1 L298.1,336.1 L298.9,336.1 L299.7,336.1 L300.5,336.1" stroke="#f00000" stroke-width="1.2" fill="none" stroke-linejoin="round" />
<path d="M173.3,336.6 L174.1,336.6 L174.9,336.6 L175.7,336.6 L176.6,336.6 L177.4,336.5 L178.2,336.5 L179.0,336.5 L179.8,336.4 L180.6,336.4 L181.4,336.3 L182.3,336.2 L183.1,336.1 L183.9,336.0 L184.7,335.8 L185.5,335.6 L186.3,335.4 L187.2,335.1 L188.0,334.7 L188.8,334.3 L189.6,333.7 L190.4,333.1 L191.2,332.3 L192.1,331.5 L192.9,330.4 L193.7,329.3 L194.5,328.0 L195.3,326.5 L196.1,324.8 L196.9,323.0 L197.8,320.9 L198.6,318.7 L199.4,316.3 L200.2,313.8 L201.0,311.1 L201.8,308.3 L202.7,305.3 L203.5,302.3 L204.3,299.3 L205.1,296.2 L205.9,293.3 L206.7,290.3 L207.6,287.6 L208.4,285.0 L209.2,282.7 L210.0,280.6 L210.8,278.8 L211.6,277.4 L212.4,276.3 L213.3,275.7 L214.1,275.4 L214.9,275.5 L215.7,275.9 L216.5,276.6 L217.3,277.5 L218.2,278.7 L219.0,280.2 L219.8,281.9 L220.6,283.7 L221.4,285.8 L222.2,288.0 L223.0,290.3 L223.9,292.7 L224.7,295.2 L225.5,297.8 L226.3,300.3 L227.1,302.9 L227.9,305.4 L228.8,307.8 L229.6,310.2 L230.4,312.5 L231.2,314.7 L232.0,316.8 L232.8,318.8 L233.7,320.7 L234.5,322.4 L235.3,324.0 L236.1,325.5 L236.9,326.8 L237.7,328.1 L238.5,329.2 L239.4,330.2 L240.2,331.0 L241.0,331.8 L241.8,332.5 L242.6,333.1 L243.4,333.7 L244.3,334.1 L245.1,334.5 L245.9,334.9 L246.7,335.2 L247.5,335.4 L248.3,335.6 L249.2,335.8 L250.0,336.0 L250.8,336.1 L251.6,336.2 L252.4,336.3 L253.2,336.3 L254.0,336.4 L254.9,336.4 L255.7,336.5 L256.5,336.5 L257.3,336.5 L258.1,336.5" stroke="#000" stroke-width="1.3" fill="none" stroke-linejoin="round" />
<path d="M169.2,336.5 L170.0,336.5 L170.8,336.5 L171.7,336.5 L172.5,336.5 L173.3,336.4 L174.1,336.4 L174.9,336.3 L175.7,336.3 L176.6,336.2 L177.4,336.1 L178.2,336.0 L179.0,335.9 L179.8,335.8 L180.6,335.7 L181.4,335.6 L182.3,335.4 L183.1,335.3 L183.9,335.1 L184.7,334.9 L185.5,334.7 L186.3,334.5 L187.2,334.4 L188.0,334.2 L188.8,334.0 L189.6,333.8 L190.4,333.7 L191.2,333.6 L192.1,333.4 L192.9,333.3 L193.7,333.3 L194.5,333.2 L195.3,333.2 L196.1,333.2 L196.9,333.2 L197.8,333.3 L198.6,333.4 L199.4,333.5 L200.2,333.6 L201.0,333.8 L201.8,333.9 L202.7,334.1 L203.5,334.3 L204.3,334.5 L205.1,334.6 L205.9,334.8 L206.7,335.0 L207.6,335.2 L208.4,335.3 L209.2,335.5 L210.0,335.6 L210.8,335.8 L211.6,335.9 L212.4,336.0 L213.3,336.1 L214.1,336.2 L214.9,336.2 L215.7,336.3 L216.5,336.4 L217.3,336.4 L218.2,336.4 L219.0,336.5 L219.8,336.5 L220.6,336.5 L221.4,336.5 Z" stroke="#000" stroke-width="0.8" fill="#868600" stroke-linejoin="round" />
<path d="M209.2,335.9 L210.0,335.8 L210.8,335.7 L211.6,335.6 L212.4,335.4 L213.3,335.2 L214.1,335.0 L214.9,334.8 L215.7,334.6 L216.5,334.3 L217.3,334.0 L218.2,333.7 L219.0,333.4 L219.8,333.1 L220.6,332.7 L221.4,332.3 L222.2,331.9 L223.0,331.4 L223.9,331.0 L224.7,330.5 L225.5,330.0 L226.3,329.5 L227.1,328.9 L227.9,328.4 L228.8,327.9 L229.6,327.3 L230.4,326.8 L231.2,326.3 L232.0,325.8 L232.8,325.3 L233.7,324.9 L234.5,324.4 L235.3,324.0 L236.1,323.7 L236.9,323.3 L237.7,323.1 L238.5,322.8 L239.4,322.6 L240.2,322.5 L241.0,322.4 L241.8,322.4 L242.6,322.4 L243.4,322.5 L244.3,322.7 L245.1,322.8 L245.9,323.1 L246.7,323.4 L247.5,323.7 L248.3,324.1 L249.2,324.5 L250.0,324.9 L250.8,325.4 L251.6,325.8 L252.4,326.3 L253.2,326.9 L254.0,327.4 L254.9,327.9 L255.7,328.5 L256.5,329.0 L257.3,329.5 L258.1,330.0 L258.9,330.5 L259.8,331.0 L260.6,331.5 L261.4,331.9 L262.2,332.3 L263.0,332.7 L263.8,333.1 L264.6,333.4 L265.5,333.8 L266.3,334.1 L267.1,334.4 L267.9,334.6 L268.7,334.8 L269.5,335.1 L270.4,335.2 L271.2,335.4 L272.0,335.6 L272.8,335.7 L273.6,335.8 L274.4,335.9 L275.3,336.0 L276.1,336.1 Z" stroke="#000" stroke-width="1.0" fill="#ff00ff" stroke-linejoin="round" />
<line x1="152.90" y1="336.60" x2="315.22" y2="336.60" stroke="#000" stroke-width="1.5" />
<text x="322.60" y="337.50" font-size="12" text-anchor="start" font-family="Liberation Sans, Arial, sans-serif" font-weight="bold" stroke="#000" stroke-width="0.3" fill="#000"  >6AZO</text>
<path d="M152.0,311.9a1.9,1.9 0 1,0 3.8,0a1.9,1.9 0 1,0 -3.8,0M154.3,310.6a1.9,1.9 0 1,0 3.8,0a1.9,1.9 0 1,0 -3.8,0M156.6,311.1a1.9,1.9 0 1,0 3.8,0a1.9,1.9 0 1,0 -3.8,0M158.8,311.2a1.9,1.9 0 1,0 3.8,0a1.9,1.9 0 1,0 -3.8,0M161.1,312.0a1.9,1.9 0 1,0 3.8,0a1.9,1.9 0 1,0 -3.8,0M163.4,310.8a1.9,1.9 0 1,0 3.8,0a1.9,1.9 0 1,0 -3.8,0M165.6,311.0a1.9,1.9 0 1,0 3.8,0a1.9,1.9 0 1,0 -3.8,0M167.9,310.9a1.9,1.9 0 1,0 3.8,0a1.9,1.9 0 1,0 -3.8,0M170.2,310.6a1.9,1.9 0 1,0 3.8,0a1.9,1.9 0 1,0 -3.8,0M172.5,310.9a1.9,1.9 0 1,0 3.8,0a1.9,1.9 0 1,0 -3.8,0M174.7,310.8a1.9,1.9 0 1,0 3.8,0a1.9,1.9 0 1,0 -3.8,0M177.0,309.8a1.9,1.9 0 1,0 3.8,0a1.9,1.9 0 1,0 -3.8,0M179.3,309.2a1.9,1.9 0 1,0 3.8,0a1.9,1.9 0 1,0 -3.8,0M181.5,308.8a1.9,1.9 0 1,0 3.8,0a1.9,1.9 0 1,0 -3.8,0M183.8,308.4a1.9,1.9 0 1,0 3.8,0a1.9,1.9 0 1,0 -3.8,0M186.1,305.7a1.9,1.9 0 1,0 3.8,0a1.9,1.9 0 1,0 -3.8,0M188.4,302.5a1.9,1.9 0 1,0 3.8,0a1.9,1.9 0 1,0 -3.8,0M190.6,300.1a1.9,1.9 0 1,0 3.8,0a1.9,1.9 0 1,0 -3.8,0M192.9,296.0a1.9,1.9 0 1,0 3.8,0a1.9,1.9 0 1,0 -3.8,0M195.2,290.1a1.9,1.9 0 1,0 3.8,0a1.9,1.9 0 1,0 -3.8,0M197.5,283.1a1.9,1.9 0 1,0 3.8,0a1.9,1.9 0 1,0 -3.8,0M199.7,274.6a1.9,1.9 0 1,0 3.8,0a1.9,1.9 0 1,0 -3.8,0M202.0,266.1a1.9,1.9 0 1,0 3.8,0a1.9,1.9 0 1,0 -3.8,0M204.3,256.4a1.9,1.9 0 1,0 3.8,0a1.9,1.9 0 1,0 -3.8,0M206.5,249.3a1.9,1.9 0 1,0 3.8,0a1.9,1.9 0 1,0 -3.8,0M208.8,243.7a1.9,1.9 0 1,0 3.8,0a1.9,1.9 0 1,0 -3.8,0M211.1,239.6a1.9,1.9 0 1,0 3.8,0a1.9,1.9 0 1,0 -3.8,0M213.4,239.8a1.9,1.9 0 1,0 3.8,0a1.9,1.9 0 1,0 -3.8,0M215.6,241.3a1.9,1.9 0 1,0 3.8,0a1.9,1.9 0 1,0 -3.8,0M217.9,244.8a1.9,1.9 0 1,0 3.8,0a1.9,1.9 0 1,0 -3.8,0M220.2,249.2a1.9,1.9 0 1,0 3.8,0a1.9,1.9 0 1,0 -3.8,0M222.4,256.7a1.9,1.9 0 1,0 3.8,0a1.9,1.9 0 1,0 -3.8,0M224.7,262.7a1.9,1.9 0 1,0 3.8,0a1.9,1.9 0 1,0 -3.8,0M227.0,267.5a1.9,1.9 0 1,0 3.8,0a1.9,1.9 0 1,0 -3.8,0M229.3,275.2a1.9,1.9 0 1,0 3.8,0a1.9,1.9 0 1,0 -3.8,0M231.5,279.7a1.9,1.9 0 1,0 3.8,0a1.9,1.9 0 1,0 -3.8,0M233.8,283.7a1.9,1.9 0 1,0 3.8,0a1.9,1.9 0 1,0 -3.8,0M236.1,286.9a1.9,1.9 0 1,0 3.8,0a1.9,1.9 0 1,0 -3.8,0M238.3,288.5a1.9,1.9 0 1,0 3.8,0a1.9,1.9 0 1,0 -3.8,0M240.6,290.8a1.9,1.9 0 1,0 3.8,0a1.9,1.9 0 1,0 -3.8,0M242.9,292.2a1.9,1.9 0 1,0 3.8,0a1.9,1.9 0 1,0 -3.8,0M245.2,295.2a1.9,1.9 0 1,0 3.8,0a1.9,1.9 0 1,0 -3.8,0M247.4,296.3a1.9,1.9 0 1,0 3.8,0a1.9,1.9 0 1,0 -3.8,0M249.7,299.6a1.9,1.9 0 1,0 3.8,0a1.9,1.9 0 1,0 -3.8,0M252.0,299.8a1.9,1.9 0 1,0 3.8,0a1.9,1.9 0 1,0 -3.8,0M254.3,302.6a1.9,1.9 0 1,0 3.8,0a1.9,1.9 0 1,0 -3.8,0M256.5,304.7a1.9,1.9 0 1,0 3.8,0a1.9,1.9 0 1,0 -3.8,0M258.8,305.6a1.9,1.9 0 1,0 3.8,0a1.9,1.9 0 1,0 -3.8,0M261.1,306.7a1.9,1.9 0 1,0 3.8,0a1.9,1.9 0 1,0 -3.8,0M263.3,307.4a1.9,1.9 0 1,0 3.8,0a1.9,1.9 0 1,0 -3.8,0M265.6,309.7a1.9,1.9 0 1,0 3.8,0a1.9,1.9 0 1,0 -3.8,0M267.9,310.3a1.9,1.9 0 1,0 3.8,0a1.9,1.9 0 1,0 -3.8,0M270.2,311.3a1.9,1.9 0 1,0 3.8,0a1.9,1.9 0 1,0 -3.8,0M272.4,310.4a1.9,1.9 0 1,0 3.8,0a1.9,1.9 0 1,0 -3.8,0M274.7,312.0a1.9,1.9 0 1,0 3.8,0a1.9,1.9 0 1,0 -3.8,0M277.0,311.5a1.9,1.9 0 1,0 3.8,0a1.9,1.9 0 1,0 -3.8,0M279.2,311.8a1.9,1.9 0 1,0 3.8,0a1.9,1.9 0 1,0 -3.8,0M281.5,311.6a1.9,1.9 0 1,0 3.8,0a1.9,1.9 0 1,0 -3.8,0M283.8,311.1a1.9,1.9 0 1,0 3.8,0a1.9,1.9 0 1,0 -3.8,0M286.1,311.3a1.9,1.9 0 1,0 3.8,0a1.9,1.9 0 1,0 -3.8,0M288.3,312.1a1.9,1.9 0 1,0 3.8,0a1.9,1.9 0 1,0 -3.8,0M290.6,311.3a1.9,1.9 0 1,0 3.8,0a1.9,1.9 0 1,0 -3.8,0M292.9,311.5a1.9,1.9 0 1,0 3.8,0a1.9,1.9 0 1,0 -3.8,0M295.1,311.5a1.9,1.9 0 1,0 3.8,0a1.9,1.9 0 1,0 -3.8,0M297.4,311.7a1.9,1.9 0 1,0 3.8,0a1.9,1.9 0 1,0 -3.8,0M299.7,312.2a1.9,1.9 0 1,0 3.8,0a1.9,1.9 0 1,0 -3.8,0M302.0,311.0a1.9,1.9 0 1,0 3.8,0a1.9,1.9 0 1,0 -3.8,0M304.2,311.7a1.9,1.9 0 1,0 3.8,0a1.9,1.9 0 1,0 -3.8,0M306.5,311.2a1.9,1.9 0 1,0 3.8,0a1.9,1.9 0 1,0 -3.8,0M308.8,311.5a1.9,1.9 0 1,0 3.8,0a1.9,1.9 0 1,0 -3.8,0M311.0,311.1a1.9,1.9 0 1,0 3.8,0a1.9,1.9 0 1,0 -3.8,0M313.3,310.6a1.9,1.9 0 1,0 3.8,0a1.9,1.9 0 1,0 -3.8,0" fill="#fff" stroke="#444" stroke-width="0.7"/>
<path d="M152.9,311.4 L153.7,311.4 L154.5,311.4 L155.3,311.4 L156.2,311.4 L157.0,311.4 L157.8,311.4 L158.6,311.4 L159.4,311.4 L160.2,311.4 L161.1,311.4 L161.9,311.4 L162.7,311.4 L163.5,311.4 L164.3,311.4 L165.1,311.4 L166.0,311.4 L166.8,311.4 L167.6,311.3 L168.4,311.3 L169.2,311.3 L170.0,311.3 L170.8,311.3 L171.7,311.2 L172.5,311.2 L173.3,311.1 L174.1,311.0 L174.9,311.0 L175.7,310.9 L176.6,310.8 L177.4,310.6 L178.2,310.5 L179.0,310.3 L179.8,310.1 L180.6,309.9 L181.4,309.6 L182.3,309.3 L183.1,308.9 L183.9,308.5 L184.7,308.1 L185.5,307.5 L186.3,307.0 L187.2,306.3 L188.0,305.6 L188.8,304.8 L189.6,303.9 L190.4,302.9 L191.2,301.8 L192.1,300.6 L192.9,299.2 L193.7,297.7 L194.5,296.1 L195.3,294.3 L196.1,292.3 L196.9,290.2 L197.8,287.9 L198.6,285.4 L199.4,282.8 L200.2,280.0 L201.0,277.0 L201.8,274.0 L202.7,270.9 L203.5,267.6 L204.3,264.4 L205.1,261.2 L205.9,258.0 L206.7,254.9 L207.6,252.0 L208.4,249.2 L209.2,246.7 L210.0,244.5 L210.8,242.6 L211.6,241.1 L212.4,239.9 L213.3,239.1 L214.1,238.8 L214.9,238.8 L215.7,239.2 L216.5,239.8 L217.3,240.6 L218.2,241.7 L219.0,243.1 L219.8,244.6 L220.6,246.4 L221.4,248.3 L222.2,250.3 L223.0,252.5 L223.9,254.7 L224.7,257.0 L225.5,259.3 L226.3,261.6 L227.1,263.8 L227.9,266.1 L228.8,268.3 L229.6,270.4 L230.4,272.4 L231.2,274.3 L232.0,276.1 L232.8,277.8 L233.7,279.3 L234.5,280.8 L235.3,282.2 L236.1,283.4 L236.9,284.6 L237.7,285.6 L238.5,286.6 L239.4,287.6 L240.2,288.4 L241.0,289.2 L241.8,290.0 L242.6,290.7 L243.4,291.5 L244.3,292.2 L245.1,292.8 L245.9,293.5 L246.7,294.2 L247.5,294.9 L248.3,295.5 L249.2,296.2 L250.0,296.9 L250.8,297.6 L251.6,298.3 L252.4,299.0 L253.2,299.7 L254.0,300.3 L254.9,301.0 L255.7,301.7 L256.5,302.3 L257.3,303.0 L258.1,303.6 L258.9,304.2 L259.8,304.8 L260.6,305.3 L261.4,305.9 L262.2,306.4 L263.0,306.8 L263.8,307.3 L264.6,307.7 L265.5,308.1 L266.3,308.4 L267.1,308.8 L267.9,309.1 L268.7,309.3 L269.5,309.6 L270.4,309.8 L271.2,310.0 L272.0,310.2 L272.8,310.4 L273.6,310.5 L274.4,310.6 L275.3,310.7 L276.1,310.8 L276.9,310.9 L277.7,311.0 L278.5,311.1 L279.3,311.1 L280.1,311.2 L281.0,311.2 L281.8,311.2 L282.6,311.3 L283.4,311.3 L284.2,311.3 L285.0,311.3 L285.9,311.3 L286.7,311.3 L287.5,311.4 L288.3,311.4 L289.1,311.4 L289.9,311.4 L290.7,311.4 L291.6,311.4 L292.4,311.4 L293.2,311.4 L294.0,311.4 L294.8,311.4 L295.6,311.4 L296.5,311.4 L297.3,311.4 L298.1,311.4 L298.9,311.4 L299.7,311.4 L300.5,311.4" stroke="#f00000" stroke-width="1.2" fill="none" stroke-linejoin="round" />
<path d="M173.3,311.9 L174.1,311.9 L174.9,311.9 L175.7,311.9 L176.6,311.8 L177.4,311.8 L178.2,311.8 L179.0,311.8 L179.8,311.7 L180.6,311.7 L181.4,311.6 L182.3,311.5 L183.1,311.4 L183.9,311.2 L184.7,311.1 L185.5,310.8 L186.3,310.5 L187.2,310.2 L188.0,309.8 L188.8,309.3 L189.6,308.7 L190.4,307.9 L191.2,307.1 L192.1,306.1 L192.9,305.0 L193.7,303.7 L194.5,302.2 L195.3,300.6 L196.1,298.7 L196.9,296.6 L197.8,294.3 L198.6,291.9 L199.4,289.2 L200.2,286.3 L201.0,283.3 L201.8,280.1 L202.7,276.8 L203.5,273.5 L204.3,270.1 L205.1,266.7 L205.9,263.3 L206.7,260.1 L207.6,257.0 L208.4,254.1 L209.2,251.4 L210.0,249.1 L210.8,247.1 L211.6,245.5 L212.4,244.3 L213.3,243.6 L214.1,243.3 L214.9,243.4 L215.7,243.9 L216.5,244.6 L217.3,245.7 L218.2,247.0 L219.0,248.7 L219.8,250.5 L220.6,252.6 L221.4,254.9 L222.2,257.4 L223.0,260.0 L223.9,262.7 L224.7,265.5 L225.5,268.4 L226.3,271.2 L227.1,274.1 L227.9,276.9 L228.8,279.6 L229.6,282.3 L230.4,284.9 L231.2,287.4 L232.0,289.7 L232.8,292.0 L233.7,294.0 L234.5,296.0 L235.3,297.8 L236.1,299.4 L236.9,301.0 L237.7,302.3 L238.5,303.6 L239.4,304.7 L240.2,305.7 L241.0,306.6 L241.8,307.3 L242.6,308.0 L243.4,308.6 L244.3,309.1 L245.1,309.6 L245.9,310.0 L246.7,310.3 L247.5,310.6 L248.3,310.8 L249.2,311.0 L250.0,311.2 L250.8,311.3 L251.6,311.4 L252.4,311.5 L253.2,311.6 L254.0,311.7 L254.9,311.7 L255.7,311.7 L256.5,311.8 L257.3,311.8 L258.1,311.8" stroke="#000" stroke-width="1.3" fill="none" stroke-linejoin="round" />
<path d="M169.2,311.8 L170.0,311.8 L170.8,311.8 L171.7,311.8 L172.5,311.7 L173.3,311.7 L174.1,311.6 L174.9,311.6 L175.7,311.5 L176.6,311.4 L177.4,311.3 L178.2,311.2 L179.0,311.1 L179.8,310.9 L180.6,310.8 L181.4,310.6 L182.3,310.4 L183.1,310.2 L183.9,310.0 L184.7,309.8 L185.5,309.6 L186.3,309.4 L187.2,309.1 L188.0,308.9 L188.8,308.7 L189.6,308.5 L190.4,308.3 L191.2,308.1 L192.1,308.0 L192.9,307.9 L193.7,307.8 L194.5,307.7 L195.3,307.7 L196.1,307.7 L196.9,307.8 L197.8,307.8 L198.6,307.9 L199.4,308.1 L200.2,308.2 L201.0,308.4 L201.8,308.6 L202.7,308.8 L203.5,309.0 L204.3,309.3 L205.1,309.5 L205.9,309.7 L206.7,309.9 L207.6,310.1 L208.4,310.3 L209.2,310.5 L210.0,310.7 L210.8,310.9 L211.6,311.0 L212.4,311.1 L213.3,311.3 L214.1,311.4 L214.9,311.5 L215.7,311.5 L216.5,311.6 L217.3,311.7 L218.2,311.7 L219.0,311.7 L219.8,311.8 L220.6,311.8 L221.4,311.8 Z" stroke="#000" stroke-width="0.8" fill="#868600" stroke-linejoin="round" />
<path d="M209.2,311.1 L210.0,311.0 L210.8,310.8 L211.6,310.7 L212.4,310.5 L213.3,310.3 L214.1,310.1 L214.9,309.8 L215.7,309.5 L216.5,309.2 L217.3,308.9 L218.2,308.6 L219.0,308.2 L219.8,307.8 L220.6,307.3 L221.4,306.9 L222.2,306.4 L223.0,305.8 L223.9,305.3 L224.7,304.7 L225.5,304.1 L226.3,303.5 L227.1,302.9 L227.9,302.3 L228.8,301.7 L229.6,301.1 L230.4,300.5 L231.2,299.9 L232.0,299.3 L232.8,298.7 L233.7,298.2 L234.5,297.7 L235.3,297.2 L236.1,296.8 L236.9,296.4 L237.7,296.1 L238.5,295.8 L239.4,295.6 L240.2,295.4 L241.0,295.3 L241.8,295.3 L242.6,295.3 L243.4,295.4 L244.3,295.6 L245.1,295.8 L245.9,296.1 L246.7,296.4 L247.5,296.8 L248.3,297.2 L249.2,297.7 L250.0,298.2 L250.8,298.8 L251.6,299.3 L252.4,299.9 L253.2,300.5 L254.0,301.1 L254.9,301.8 L255.7,302.4 L256.5,303.0 L257.3,303.6 L258.1,304.2 L258.9,304.8 L259.8,305.3 L260.6,305.9 L261.4,306.4 L262.2,306.9 L263.0,307.4 L263.8,307.8 L264.6,308.2 L265.5,308.6 L266.3,308.9 L267.1,309.3 L267.9,309.6 L268.7,309.8 L269.5,310.1 L270.4,310.3 L271.2,310.5 L272.0,310.7 L272.8,310.9 L273.6,311.0 L274.4,311.1 L275.3,311.2 L276.1,311.3 Z" stroke="#000" stroke-width="1.0" fill="#ff00ff" stroke-linejoin="round" />
<line x1="152.90" y1="311.90" x2="315.22" y2="311.90" stroke="#000" stroke-width="1.5" />
<text x="322.60" y="312.70" font-size="12" text-anchor="start" font-family="Liberation Sans, Arial, sans-serif" font-weight="bold" stroke="#000" stroke-width="0.3" fill="#000"  >12AZO</text>
<rect x="152.9" y="233.2" width="223.29999999999998" height="162.60000000000002" fill="none" stroke="#000" stroke-width="2.1"/>
<line x1="152.90" y1="395.80" x2="152.90" y2="400.00" stroke="#000" stroke-width="1.5" />
<line x1="173.19" y1="395.80" x2="173.19" y2="398.60" stroke="#000" stroke-width="1.5" />
<line x1="193.48" y1="395.80" x2="193.48" y2="400.00" stroke="#000" stroke-width="1.5" />
<line x1="213.77" y1="395.80" x2="213.77" y2="398.60" stroke="#000" stroke-width="1.5" />
<line x1="234.06" y1="395.80" x2="234.06" y2="400.00" stroke="#000" stroke-width="1.5" />
<line x1="254.35" y1="395.80" x2="254.35" y2="398.60" stroke="#000" stroke-width="1.5" />
<line x1="274.64" y1="395.80" x2="274.64" y2="400.00" stroke="#000" stroke-width="1.5" />
<line x1="294.93" y1="395.80" x2="294.93" y2="398.60" stroke="#000" stroke-width="1.5" />
<line x1="315.22" y1="395.80" x2="315.22" y2="400.00" stroke="#000" stroke-width="1.5" />
<line x1="335.51" y1="395.80" x2="335.51" y2="398.60" stroke="#000" stroke-width="1.5" />
<line x1="355.80" y1="395.80" x2="355.80" y2="400.00" stroke="#000" stroke-width="1.5" />
<line x1="376.09" y1="395.80" x2="376.09" y2="398.60" stroke="#000" stroke-width="1.5" />
<text x="152.90" y="410.50" font-size="12" text-anchor="middle" font-family="Liberation Sans, Arial, sans-serif" font-weight="bold" stroke="#000" stroke-width="0.3" fill="#000"  >528</text>
<text x="193.48" y="410.50" font-size="12" text-anchor="middle" font-family="Liberation Sans, Arial, sans-serif" font-weight="bold" stroke="#000" stroke-width="0.3" fill="#000"  >530</text>
<text x="234.06" y="410.50" font-size="12" text-anchor="middle" font-family="Liberation Sans, Arial, sans-serif" font-weight="bold" stroke="#000" stroke-width="0.3" fill="#000"  >532</text>
<text x="274.64" y="410.50" font-size="12" text-anchor="middle" font-family="Liberation Sans, Arial, sans-serif" font-weight="bold" stroke="#000" stroke-width="0.3" fill="#000"  >534</text>
<text x="315.22" y="410.50" font-size="12" text-anchor="middle" font-family="Liberation Sans, Arial, sans-serif" font-weight="bold" stroke="#000" stroke-width="0.3" fill="#000"  >536</text>
<text x="355.80" y="410.50" font-size="12" text-anchor="middle" font-family="Liberation Sans, Arial, sans-serif" font-weight="bold" stroke="#000" stroke-width="0.3" fill="#000"  >538</text>
<text x="263.00" y="428.20" font-size="12.6" text-anchor="middle" font-family="Liberation Sans, Arial, sans-serif" font-weight="bold" stroke="#000" stroke-width="0.3" fill="#000" textLength="124" lengthAdjust="spacingAndGlyphs" >Binding energy (eV)</text>
<text transform="translate(142.60,322.40) rotate(-90)" font-size="13.6" text-anchor="middle" font-family="Liberation Sans, Arial, sans-serif" font-weight="bold" stroke="#000" stroke-width="0.3" fill="#000" textLength="48.6" lengthAdjust="spacingAndGlyphs" >Count/s</text>
<text x="159.00" y="258.00" font-size="16" text-anchor="start" font-family="Liberation Serif, Times New Roman, serif" font-weight="bold" stroke="#000" stroke-width="0.25" fill="#000"  >(d)</text>
<text x="181.5" y="249.6" font-size="11.8" font-family="Liberation Sans, Arial, sans-serif" font-weight="bold" stroke="#000" stroke-width="0.3">O<tspan font-size="7.8" stroke-width="0.1">ii</tspan></text>
<text x="164.8" y="292.0" font-size="11.8" font-family="Liberation Sans, Arial, sans-serif" font-weight="bold" stroke="#000" stroke-width="0.3">O<tspan font-size="7.8" stroke-width="0.1">i</tspan></text>
<text x="273.1" y="286.0" font-size="12" font-family="Liberation Sans, Arial, sans-serif" font-weight="bold" stroke="#000" stroke-width="0.3">O<tspan font-size="6.8" font-weight="normal" fill="#444" stroke="#444" stroke-width="0.2">iii</tspan></text>
<line x1="201.30" y1="246.10" x2="219.80" y2="265.60" stroke="#000" stroke-width="1.2" stroke-dasharray="3 2.5"/>
<line x1="180.90" y1="288.70" x2="194.80" y2="305.40" stroke="#000" stroke-width="1.2" stroke-dasharray="3 2.5"/>
<line x1="271.50" y1="282.00" x2="254.60" y2="298.60" stroke="#000" stroke-width="1.2" stroke-dasharray="3 2.5"/>
<path d="M288.8,245.4 L291.2,243 L293.6,245.4 L291.2,247.8 Z" fill="#fff" stroke="#444" stroke-width="0.7"/>
<text x="309.60" y="249.80" font-size="12.1" text-anchor="start" font-family="Liberation Sans, Arial, sans-serif" font-weight="bold" stroke="#000" stroke-width="0.3" fill="#000" textLength="25.7" lengthAdjust="spacingAndGlyphs" >Raw</text>
<line x1="276.00" y1="261.60" x2="306.40" y2="261.60" stroke="#f00000" stroke-width="1.2" />
<text x="309.60" y="265.40" font-size="12.1" text-anchor="start" font-family="Liberation Sans, Arial, sans-serif" font-weight="bold" stroke="#000" stroke-width="0.3" fill="#000" textLength="60.1" lengthAdjust="spacingAndGlyphs" >Peak Sum</text>
</g>
<g id="pe">
<path d="M471.8,348.7 L488.2,316.0" stroke="#000" stroke-width="1.7" fill="none" stroke-linejoin="round" />
<path d="M489.7,313.0 L516.0,260.8 L560.4,274.5 L604.8,296.2 L649.0,305.0" stroke="#000" stroke-width="1.7" fill="none" stroke-linejoin="round" />
<rect x="468.3" y="345.2" width="7" height="7" fill="#fff"/><rect x="468.9" y="345.8" width="5.8" height="5.8" fill="#000"/>
<rect x="512.5" y="257.2" width="7" height="7" fill="#fff"/><rect x="513.1" y="257.9" width="5.8" height="5.8" fill="#000"/>
<rect x="556.9" y="271.0" width="7" height="7" fill="#fff"/><rect x="557.5" y="271.6" width="5.8" height="5.8" fill="#000"/>
<rect x="601.3" y="292.8" width="7" height="7" fill="#fff"/><rect x="601.9" y="293.4" width="5.8" height="5.8" fill="#000"/>
<rect x="645.5" y="301.5" width="7" height="7" fill="#fff"/><rect x="646.1" y="302.1" width="5.8" height="5.8" fill="#000"/>
<line x1="443.30" y1="233.20" x2="671.30" y2="233.20" stroke="#000" stroke-width="1.8" />
<line x1="671.30" y1="232.30" x2="671.30" y2="398.50" stroke="#000" stroke-width="1.8" />
<line x1="443.30" y1="394.30" x2="672.20" y2="394.30" stroke="#000" stroke-width="1.8" />
<line x1="450.30" y1="232.30" x2="450.30" y2="395.20" stroke="#000" stroke-width="1.8" />
<rect x="448.3" y="313.2" width="4" height="2.3" fill="#fff"/>
<line x1="443.50" y1="315.50" x2="456.50" y2="311.20" stroke="#000" stroke-width="1.3" />
<line x1="443.50" y1="317.90" x2="456.50" y2="313.60" stroke="#000" stroke-width="1.3" />
<rect x="669.3" y="313.2" width="4" height="2.3" fill="#fff"/>
<line x1="664.50" y1="315.50" x2="677.50" y2="311.20" stroke="#000" stroke-width="1.3" />
<line x1="664.50" y1="317.90" x2="677.50" y2="313.60" stroke="#000" stroke-width="1.3" />
<line x1="443.30" y1="233.20" x2="450.30" y2="233.20" stroke="#000" stroke-width="1.5" />
<text x="438.50" y="236.80" font-size="11.3" text-anchor="end" font-family="Liberation Sans, Arial, sans-serif" font-weight="bold" stroke="#000" stroke-width="0.3" fill="#000"  >100</text>
<line x1="443.30" y1="259.60" x2="450.30" y2="259.60" stroke="#000" stroke-width="1.5" />
<text x="438.50" y="263.20" font-size="11.3" text-anchor="end" font-family="Liberation Sans, Arial, sans-serif" font-weight="bold" stroke="#000" stroke-width="0.3" fill="#000"  >98</text>
<line x1="443.30" y1="286.00" x2="450.30" y2="286.00" stroke="#000" stroke-width="1.5" />
<text x="438.50" y="289.60" font-size="11.3" text-anchor="end" font-family="Liberation Sans, Arial, sans-serif" font-weight="bold" stroke="#000" stroke-width="0.3" fill="#000"  >96</text>
<line x1="443.30" y1="312.40" x2="450.30" y2="312.40" stroke="#000" stroke-width="1.5" />
<text x="438.50" y="316.00" font-size="11.3" text-anchor="end" font-family="Liberation Sans, Arial, sans-serif" font-weight="bold" stroke="#000" stroke-width="0.3" fill="#000"  >94</text>
<line x1="445.90" y1="246.40" x2="450.30" y2="246.40" stroke="#000" stroke-width="1.5" />
<line x1="445.90" y1="272.80" x2="450.30" y2="272.80" stroke="#000" stroke-width="1.5" />
<line x1="445.90" y1="299.20" x2="450.30" y2="299.20" stroke="#000" stroke-width="1.5" />
<line x1="443.30" y1="325.90" x2="450.30" y2="325.90" stroke="#000" stroke-width="1.5" />
<text x="438.50" y="329.50" font-size="11.3" text-anchor="end" font-family="Liberation Sans, Arial, sans-serif" font-weight="bold" stroke="#000" stroke-width="0.3" fill="#000"  >30</text>
<line x1="443.30" y1="349.10" x2="450.30" y2="349.10" stroke="#000" stroke-width="1.5" />
<text x="438.50" y="352.70" font-size="11.3" text-anchor="end" font-family="Liberation Sans, Arial, sans-serif" font-weight="bold" stroke="#000" stroke-width="0.3" fill="#000"  >20</text>
<line x1="443.30" y1="371.80" x2="450.30" y2="371.80" stroke="#000" stroke-width="1.5" />
<text x="438.50" y="375.40" font-size="11.3" text-anchor="end" font-family="Liberation Sans, Arial, sans-serif" font-weight="bold" stroke="#000" stroke-width="0.3" fill="#000"  >10</text>
<line x1="443.30" y1="394.30" x2="450.30" y2="394.30" stroke="#000" stroke-width="1.5" />
<text x="438.50" y="397.90" font-size="11.3" text-anchor="end" font-family="Liberation Sans, Arial, sans-serif" font-weight="bold" stroke="#000" stroke-width="0.3" fill="#000"  >0</text>
<line x1="445.90" y1="337.50" x2="450.30" y2="337.50" stroke="#000" stroke-width="1.5" />
<line x1="445.90" y1="360.40" x2="450.30" y2="360.40" stroke="#000" stroke-width="1.5" />
<line x1="445.90" y1="383.00" x2="450.30" y2="383.00" stroke="#000" stroke-width="1.5" />
<line x1="471.80" y1="394.30" x2="471.80" y2="401.30" stroke="#000" stroke-width="1.5" />
<line x1="516.00" y1="394.30" x2="516.00" y2="401.30" stroke="#000" stroke-width="1.5" />
<line x1="560.40" y1="394.30" x2="560.40" y2="401.30" stroke="#000" stroke-width="1.5" />
<line x1="604.80" y1="394.30" x2="604.80" y2="401.30" stroke="#000" stroke-width="1.5" />
<line x1="649.00" y1="394.30" x2="649.00" y2="401.30" stroke="#000" stroke-width="1.5" />
<line x1="493.90" y1="394.30" x2="493.90" y2="398.50" stroke="#000" stroke-width="1.5" />
<line x1="538.20" y1="394.30" x2="538.20" y2="398.50" stroke="#000" stroke-width="1.5" />
<line x1="582.60" y1="394.30" x2="582.60" y2="398.50" stroke="#000" stroke-width="1.5" />
<line x1="626.90" y1="394.30" x2="626.90" y2="398.50" stroke="#000" stroke-width="1.5" />
<text x="471.80" y="412.60" font-size="9.4" text-anchor="middle" font-family="Liberation Sans, Arial, sans-serif" font-weight="bold" stroke="#000" stroke-width="0.3" fill="#000" textLength="20.7" lengthAdjust="spacingAndGlyphs" >ZnO</text>
<text x="516.00" y="412.60" font-size="9.4" text-anchor="middle" font-family="Liberation Sans, Arial, sans-serif" font-weight="bold" stroke="#000" stroke-width="0.3" fill="#000" textLength="35.4" lengthAdjust="spacingAndGlyphs" >1.2AZO</text>
<text x="560.40" y="412.60" font-size="9.4" text-anchor="middle" font-family="Liberation Sans, Arial, sans-serif" font-weight="bold" stroke="#000" stroke-width="0.3" fill="#000" textLength="36" lengthAdjust="spacingAndGlyphs" >2.4AZO</text>
<text x="604.80" y="412.60" font-size="9.4" text-anchor="middle" font-family="Liberation Sans, Arial, sans-serif" font-weight="bold" stroke="#000" stroke-width="0.3" fill="#000"  >6AZO</text>
<text x="649.00" y="412.60" font-size="9.4" text-anchor="middle" font-family="Liberation Sans, Arial, sans-serif" font-weight="bold" stroke="#000" stroke-width="0.3" fill="#000" textLength="32.3" lengthAdjust="spacingAndGlyphs" >12AZO</text>
<text x="560.20" y="428.60" font-size="11.8" text-anchor="middle" font-family="Liberation Sans, Arial, sans-serif" font-weight="bold" stroke="#000" stroke-width="0.3" fill="#000" textLength="47.9" lengthAdjust="spacingAndGlyphs" >Surface</text>
<text transform="translate(415.20,310.00) rotate(-90)" font-size="13.2" text-anchor="middle" font-family="Liberation Sans, Arial, sans-serif" stroke="#000" stroke-width="0.35" fill="#000" textLength="115" lengthAdjust="spacingAndGlyphs" >Ratio of Oii/Oi (%)</text>
<text x="459.50" y="258.30" font-size="15" text-anchor="start" font-family="Liberation Serif, Times New Roman, serif" font-weight="bold" stroke="#000" stroke-width="0.25" fill="#000"  >(e)</text>
</g>
</svg></body></html>
